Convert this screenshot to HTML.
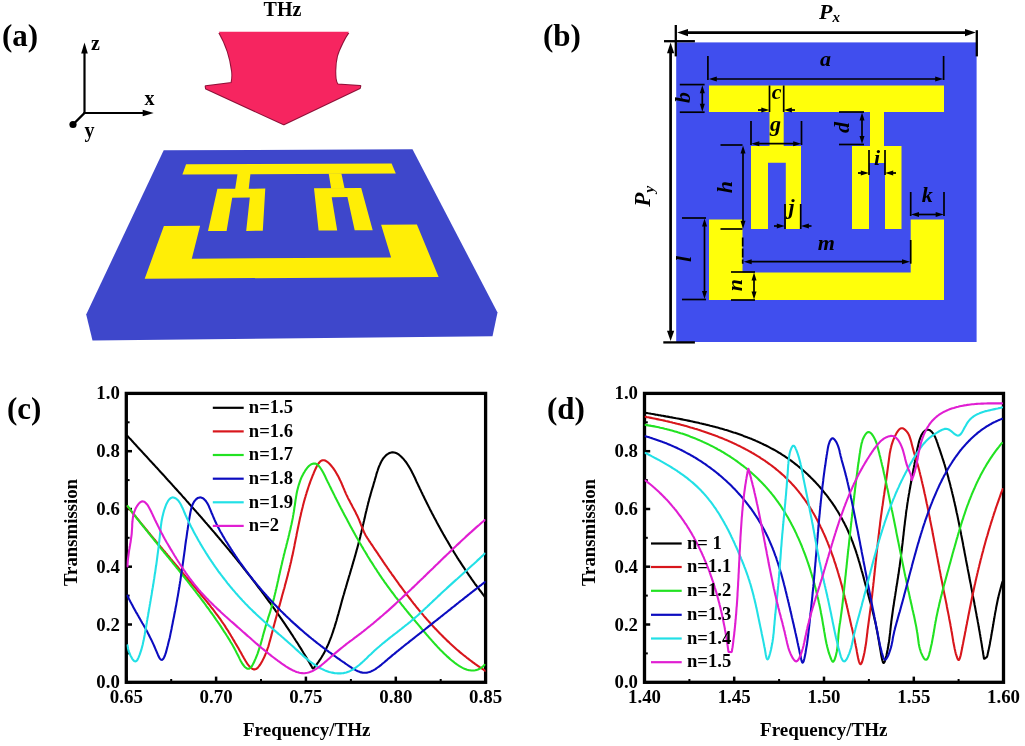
<!DOCTYPE html>
<html lang="en"><head><meta charset="utf-8"><title>Figure</title>
<style>
html,body{margin:0;padding:0;background:#fff;}
body{width:1025px;height:746px;overflow:hidden;}
svg{display:block;}
svg text{font-family:"Liberation Serif","Times New Roman",serif;fill:#000;}
</style></head><body>
<svg width="1025" height="746" viewBox="0 0 1025 746">
<rect width="1025" height="746" fill="#fff"/>
<text x="2" y="46" font-size="31" font-weight="bold" font-style="normal" text-anchor="start" >(a)</text>
<text x="543" y="46" font-size="31" font-weight="bold" font-style="normal" text-anchor="start" >(b)</text>
<text x="7" y="419" font-size="31" font-weight="bold" font-style="normal" text-anchor="start" >(c)</text>
<text x="547" y="419" font-size="31" font-weight="bold" font-style="normal" text-anchor="start" >(d)</text>
<g id="panel-a">
<line x1="84.5" y1="114" x2="84.5" y2="51" stroke="#000" stroke-width="2.2" />
<polygon points="84.5,42.5 87.8,53.5 81.2,53.5" fill="#000" />
<line x1="83.4" y1="113" x2="145" y2="113" stroke="#000" stroke-width="2.2" />
<polygon points="153.7,113 142.7,116.2 142.7,109.8" fill="#000" />
<line x1="84.5" y1="113" x2="73" y2="124.5" stroke="#000" stroke-width="2.4" />
<circle cx="73" cy="124.5" r="3.6" fill="#000"/>
<text x="91" y="49.5" font-size="20" font-weight="bold" font-style="normal" text-anchor="start" >z</text>
<text x="144.5" y="104.5" font-size="20" font-weight="bold" font-style="normal" text-anchor="start" >x</text>
<text x="84.5" y="136.5" font-size="20" font-weight="bold" font-style="normal" text-anchor="start" >y</text>
<text x="282.5" y="16.3" font-size="20" font-weight="bold" font-style="normal" text-anchor="middle" >THz</text>
<clipPath id="clip-arrow"><rect x="190" y="33" width="190" height="100"/></clipPath>
<path d="M218.8,31.8 L349,31.8 C345,37 339,49 337,56 C335.5,62 335,72 335.6,78.5 C335.9,81 336.7,83 337.7,84.6 L360.3,85.9 L359.8,88 L283.8,124.3 L206,88.6 L205.7,86.3 L231.5,83 C232.4,79 232.5,75 232.1,71.5 C230.5,58 226,44 218.8,31.8 Z" fill="#8e1038" stroke="#8e1038" stroke-width="2" stroke-linejoin="round" clip-path="url(#clip-arrow)"/>
<path d="M218.8,31.8 L349,31.8 C345,37 339,49 337,56 C335.5,62 335,72 335.6,78.5 C335.9,81 336.7,83 337.7,84.6 L360.3,85.9 L359.8,88 L283.8,124.3 L206,88.6 L205.7,86.3 L231.5,83 C232.4,79 232.5,75 232.1,71.5 C230.5,58 226,44 218.8,31.8 Z" fill="#f62560"/>
<polygon points="163.7,150.3 412.5,149.3 497.5,312.5 492.5,336.2 92.5,340.5 86.2,314.5" fill="#3e47cb" />
<polygon points="186.1,164.3 391.6,163.4 395.8,173.6 182.4,174.6" fill="#ffee06" />
<polygon points="237.5,174 250.4,173.9 248.7,189.1 235.1,189.2" fill="#ffee06" />
<polygon points="217.4,188.8 265.3,188.6 262.8,230.8 246.2,230.9 249.8,197.6 232.2,197.7 226.6,231 208,231.1" fill="#ffee06" />
<polygon points="328.7,173.5 341.4,173.5 344.6,188.6 331.2,188.7" fill="#ffee06" />
<polygon points="314,188.3 361.2,188.1 372.7,230.2 354.7,230.3 347.4,197.1 331.7,197.2 337.2,230.4 318.6,230.5" fill="#ffee06" />
<polygon points="163.9,225.9 200.1,225.7 191.8,258.7 391.1,257.5 381.1,224.7 416.9,224.5 438.6,277 144.7,278.8" fill="#ffee06" />
</g>
<g id="panel-b">
<rect x="676.2" y="42.4" width="300.4" height="299.6" fill="#404eee"/>
<polygon points="709,85.5 944,85.5 944,112 709,112" fill="#ffff0a" />
<polygon points="769.5,111 783.7,111 783.7,147 769.5,147" fill="#ffff0a" />
<polygon points="751,146 801,146 801,229 785.8,229 785.8,162.7 768,162.7 768,229 751,229" fill="#ffff0a" />
<polygon points="870,111 884,111 884,147 870,147" fill="#ffff0a" />
<polygon points="852,146 901.5,146 901.5,229 885,229 885,163 869,163 869,229 852,229" fill="#ffff0a" />
<polygon points="709,219.5 742.5,219.5 742.5,272.5 910.7,272.5 910.7,219.5 944,219.5 944,300 709,300" fill="#ffff0a" />
<line x1="684" y1="32.6" x2="970" y2="32.6" stroke="#000" stroke-width="2.7" />
<polygon points="677.2,32.6 688,29 688,36.2" fill="#000" />
<polygon points="975.8,32.6 965,36.2 965,29" fill="#000" />
<line x1="675.8" y1="25" x2="675.8" y2="56.4" stroke="#000" stroke-width="2.3" />
<line x1="976.8" y1="30.2" x2="976.8" y2="56.4" stroke="#000" stroke-width="2.3" />
<line x1="670.6" y1="50" x2="670.6" y2="334" stroke="#000" stroke-width="2.7" />
<polygon points="670.6,42.6 674.2,53.2 667,53.2" fill="#000" />
<polygon points="670.6,341 667,330.8 674.2,330.8" fill="#000" />
<line x1="664" y1="41.2" x2="694.9" y2="41.2" stroke="#000" stroke-width="2.3" />
<line x1="663.3" y1="342.4" x2="694.9" y2="342.4" stroke="#000" stroke-width="2.3" />
<text x="819" y="18.8" font-size="22" font-weight="bold" font-style="italic" text-anchor="start" >P</text>
<text x="832.6" y="22.4" font-size="15" font-weight="bold" font-style="italic" text-anchor="start" >x</text>
<g transform="translate(649.8,206.8) rotate(-90)">
<text x="0" y="0" font-size="23" font-weight="bold" font-style="italic" text-anchor="start" >P</text>
<text x="14" y="4.6" font-size="15.5" font-weight="bold" font-style="italic" text-anchor="start" >y</text>
</g>
<line x1="707.9" y1="56" x2="707.9" y2="80" stroke="#000" stroke-width="1.7" />
<line x1="943.6" y1="56" x2="943.6" y2="80" stroke="#000" stroke-width="1.7" />
<line x1="713.6" y1="79" x2="938.4" y2="79" stroke="#000" stroke-width="1.7" />
<polygon points="708.8,79 716.8,76.5 716.8,81.5" fill="#000" />
<polygon points="943.2,79 935.2,81.5 935.2,76.5" fill="#000" />
<text x="825.5" y="66" font-size="22" font-weight="bold" font-style="italic" text-anchor="middle" >a</text>
<line x1="679.8" y1="84.6" x2="704.6" y2="84.6" stroke="#000" stroke-width="1.7" />
<line x1="679.8" y1="112.2" x2="704.6" y2="112.2" stroke="#000" stroke-width="1.7" />
<line x1="702.3" y1="90" x2="702.3" y2="107" stroke="#000" stroke-width="1.7" />
<polygon points="702.3,85.2 704.8,93.2 699.8,93.2" fill="#000" />
<polygon points="702.3,111.8 699.8,103.8 704.8,103.8" fill="#000" />
<text x="690" y="97.5" font-size="22" font-weight="bold" font-style="italic" text-anchor="middle" transform="rotate(-90 690 97.5)" >b</text>
<line x1="769.5" y1="85.5" x2="769.5" y2="112" stroke="#000" stroke-width="1.7" />
<line x1="783.7" y1="85.5" x2="783.7" y2="112" stroke="#000" stroke-width="1.7" />
<line x1="758" y1="110" x2="764.5" y2="110" stroke="#000" stroke-width="1.7" />
<polygon points="769.3,110 761.3,112.5 761.3,107.5" fill="#000" />
<line x1="795" y1="110" x2="788.7" y2="110" stroke="#000" stroke-width="1.7" />
<polygon points="783.9,110 791.9,107.5 791.9,112.5" fill="#000" />
<text x="776.6" y="99" font-size="22" font-weight="bold" font-style="italic" text-anchor="middle" >c</text>
<line x1="751" y1="121" x2="751" y2="145" stroke="#000" stroke-width="1.7" />
<line x1="801.5" y1="121" x2="801.5" y2="145" stroke="#000" stroke-width="1.7" />
<line x1="756.1" y1="143.7" x2="796.4" y2="143.7" stroke="#000" stroke-width="1.7" />
<polygon points="751.3,143.7 759.3,141.2 759.3,146.2" fill="#000" />
<polygon points="801.2,143.7 793.2,146.2 793.2,141.2" fill="#000" />
<text x="775.5" y="131" font-size="22" font-weight="bold" font-style="italic" text-anchor="middle" >g</text>
<line x1="839" y1="112" x2="864" y2="112" stroke="#000" stroke-width="1.7" />
<line x1="839" y1="144.5" x2="864" y2="144.5" stroke="#000" stroke-width="1.7" />
<line x1="862" y1="117.3" x2="862" y2="139.2" stroke="#000" stroke-width="1.7" />
<polygon points="862,112.5 864.5,120.5 859.5,120.5" fill="#000" />
<polygon points="862,144 859.5,136 864.5,136" fill="#000" />
<text x="848.5" y="127.5" font-size="22" font-weight="bold" font-style="italic" text-anchor="middle" transform="rotate(-90 848.5 127.5)" >d</text>
<line x1="869" y1="150" x2="869" y2="175" stroke="#000" stroke-width="1.7" />
<line x1="885" y1="150" x2="885" y2="175" stroke="#000" stroke-width="1.7" />
<line x1="858" y1="173" x2="864" y2="173" stroke="#000" stroke-width="1.7" />
<polygon points="868.8,173 860.8,175.5 860.8,170.5" fill="#000" />
<line x1="896" y1="173" x2="890" y2="173" stroke="#000" stroke-width="1.7" />
<polygon points="885.2,173 893.2,170.5 893.2,175.5" fill="#000" />
<text x="877" y="164.5" font-size="22" font-weight="bold" font-style="italic" text-anchor="middle" >i</text>
<line x1="720.5" y1="145" x2="742.5" y2="145" stroke="#000" stroke-width="1.7" />
<line x1="720.5" y1="229" x2="742.5" y2="229" stroke="#000" stroke-width="1.7" />
<line x1="743" y1="150.3" x2="743" y2="223.9" stroke="#000" stroke-width="1.7" />
<polygon points="743,145.5 745.5,153.5 740.5,153.5" fill="#000" />
<polygon points="743,228.7 740.5,220.7 745.5,220.7" fill="#000" />
<text x="731.5" y="187" font-size="22" font-weight="bold" font-style="italic" text-anchor="middle" transform="rotate(-90 731.5 187)" >h</text>
<line x1="785" y1="204" x2="785" y2="229" stroke="#000" stroke-width="1.7" />
<line x1="800.7" y1="204" x2="800.7" y2="229" stroke="#000" stroke-width="1.7" />
<line x1="774" y1="226" x2="780" y2="226" stroke="#000" stroke-width="1.7" />
<polygon points="784.8,226 776.8,228.5 776.8,223.5" fill="#000" />
<line x1="811.5" y1="226" x2="805.7" y2="226" stroke="#000" stroke-width="1.7" />
<polygon points="800.9,226 808.9,223.5 808.9,228.5" fill="#000" />
<text x="791.5" y="214" font-size="22" font-weight="bold" font-style="italic" text-anchor="middle" >j</text>
<line x1="910.7" y1="192" x2="910.7" y2="216" stroke="#000" stroke-width="1.7" />
<line x1="944" y1="192" x2="944" y2="216" stroke="#000" stroke-width="1.7" />
<line x1="915.8" y1="214.5" x2="938.9" y2="214.5" stroke="#000" stroke-width="1.7" />
<polygon points="911,214.5 919,212 919,217" fill="#000" />
<polygon points="943.7,214.5 935.7,217 935.7,212" fill="#000" />
<text x="927.3" y="202" font-size="22" font-weight="bold" font-style="italic" text-anchor="middle" >k</text>
<line x1="682" y1="218" x2="706" y2="218" stroke="#000" stroke-width="1.7" />
<line x1="682" y1="299.5" x2="706" y2="299.5" stroke="#000" stroke-width="1.7" />
<line x1="704.5" y1="223.3" x2="704.5" y2="294.2" stroke="#000" stroke-width="1.7" />
<polygon points="704.5,218.5 707,226.5 702,226.5" fill="#000" />
<polygon points="704.5,299 702,291 707,291" fill="#000" />
<text x="691" y="259" font-size="22" font-weight="bold" font-style="italic" text-anchor="middle" transform="rotate(-90 691 259)" >l</text>
<line x1="742.7" y1="237.5" x2="742.7" y2="263.7" stroke="#000" stroke-width="1.7" stroke-dasharray="9 2"/>
<line x1="910.7" y1="240" x2="910.7" y2="263.7" stroke="#000" stroke-width="1.7" />
<line x1="748.5" y1="261.7" x2="905.2" y2="261.7" stroke="#000" stroke-width="1.7" />
<polygon points="743.7,261.7 751.7,259.2 751.7,264.2" fill="#000" />
<polygon points="910,261.7 902,264.2 902,259.2" fill="#000" />
<text x="826.3" y="250" font-size="22" font-weight="bold" font-style="italic" text-anchor="middle" >m</text>
<line x1="731" y1="272" x2="755" y2="272" stroke="#000" stroke-width="1.7" />
<line x1="731" y1="300" x2="755" y2="300" stroke="#000" stroke-width="1.7" />
<line x1="754" y1="277.3" x2="754" y2="294.7" stroke="#000" stroke-width="1.7" />
<polygon points="754,272.5 756.5,280.5 751.5,280.5" fill="#000" />
<polygon points="754,299.5 751.5,291.5 756.5,291.5" fill="#000" />
<text x="742" y="285" font-size="22" font-weight="bold" font-style="italic" text-anchor="middle" transform="rotate(-90 742 285)" >n</text>
</g>
<g id="plot-c">
<clipPath id="clip-plot-c"><rect x="126.3" y="393.4" width="359.3" height="288.9"/></clipPath>
<rect x="126.3" y="393.4" width="359.3" height="288.9" fill="none" stroke="#000" stroke-width="3.3"/>
<line x1="126.3" y1="682.3" x2="126.3" y2="676.6" stroke="#000" stroke-width="2.5" />
<line x1="171.2" y1="682.3" x2="171.2" y2="679" stroke="#000" stroke-width="2" />
<line x1="216.1" y1="682.3" x2="216.1" y2="676.6" stroke="#000" stroke-width="2.5" />
<line x1="261" y1="682.3" x2="261" y2="679" stroke="#000" stroke-width="2" />
<line x1="305.9" y1="682.3" x2="305.9" y2="676.6" stroke="#000" stroke-width="2.5" />
<line x1="350.9" y1="682.3" x2="350.9" y2="679" stroke="#000" stroke-width="2" />
<line x1="395.8" y1="682.3" x2="395.8" y2="676.6" stroke="#000" stroke-width="2.5" />
<line x1="440.7" y1="682.3" x2="440.7" y2="679" stroke="#000" stroke-width="2" />
<line x1="485.6" y1="682.3" x2="485.6" y2="676.6" stroke="#000" stroke-width="2.5" />
<line x1="126.3" y1="682.3" x2="132" y2="682.3" stroke="#000" stroke-width="2.5" />
<line x1="126.3" y1="653.4" x2="129.6" y2="653.4" stroke="#000" stroke-width="2" />
<line x1="126.3" y1="624.5" x2="132" y2="624.5" stroke="#000" stroke-width="2.5" />
<line x1="126.3" y1="595.6" x2="129.6" y2="595.6" stroke="#000" stroke-width="2" />
<line x1="126.3" y1="566.7" x2="132" y2="566.7" stroke="#000" stroke-width="2.5" />
<line x1="126.3" y1="537.8" x2="129.6" y2="537.8" stroke="#000" stroke-width="2" />
<line x1="126.3" y1="509" x2="132" y2="509" stroke="#000" stroke-width="2.5" />
<line x1="126.3" y1="480.1" x2="129.6" y2="480.1" stroke="#000" stroke-width="2" />
<line x1="126.3" y1="451.2" x2="132" y2="451.2" stroke="#000" stroke-width="2.5" />
<line x1="126.3" y1="422.3" x2="129.6" y2="422.3" stroke="#000" stroke-width="2" />
<line x1="126.3" y1="393.4" x2="132" y2="393.4" stroke="#000" stroke-width="2.5" />
<g clip-path="url(#clip-plot-c)" fill="none" stroke-width="2.1" stroke-linejoin="round" stroke-linecap="round">
<path d="M127.5,436 L128.5,437.1 L129.5,438.2 L130.6,439.3 L131.6,440.4 L132.6,441.5 L133.6,442.6 L134.6,443.7 L135.7,444.8 L136.7,446 L137.7,447.1 L138.7,448.2 L139.7,449.3 L140.8,450.4 L141.8,451.5 L142.8,452.6 L143.8,453.7 L144.8,454.8 L145.9,455.9 L146.9,457 L147.9,458.1 L148.9,459.3 L149.9,460.4 L151,461.5 L152,462.6 L153,463.7 L154,464.8 L155,465.9 L156,467 L157.1,468.1 L158.1,469.2 L159.1,470.4 L160.1,471.5 L161.1,472.6 L162.2,473.7 L163.2,474.8 L164.2,475.9 L165.2,477 L166.2,478.2 L167.2,479.3 L168.2,480.4 L169.3,481.5 L170.3,482.6 L171.3,483.7 L172.3,484.9 L173.3,486 L174.3,487.1 L175.3,488.2 L176.3,489.3 L177.4,490.5 L178.4,491.6 L179.4,492.7 L180.4,493.8 L181.4,494.9 L182.4,496.1 L183.4,497.2 L184.4,498.3 L185.4,499.4 L186.4,500.6 L187.4,501.7 L188.4,502.8 L189.4,504 L190.4,505.1 L191.4,506.2 L192.4,507.3 L193.4,508.5 L194.4,509.6 L195.4,510.7 L196.4,511.9 L197.4,513 L198.4,514.1 L199.4,515.3 L200.4,516.4 L201.4,517.5 L202.4,518.7 L203.4,519.8 L204.4,521 L205.3,522.1 L206.3,523.2 L207.3,524.4 L208.3,525.5 L209.3,526.7 L210.3,527.8 L211.3,529 L212.2,530.1 L213.2,531.2 L214.2,532.4 L215.2,533.5 L216.1,534.7 L217.1,535.8 L218.1,537 L219.1,538.1 L220,539.3 L221,540.4 L222,541.6 L222.9,542.8 L223.9,543.9 L224.9,545.1 L225.8,546.2 L226.8,547.4 L227.8,548.6 L228.7,549.7 L229.7,550.9 L230.6,552 L231.6,553.2 L232.6,554.4 L233.5,555.5 L234.5,556.7 L235.4,557.9 L236.4,559 L237.3,560.2 L238.2,561.4 L239.2,562.6 L240.1,563.7 L241.1,564.9 L242,566.1 L243,567.3 L243.9,568.5 L244.8,569.6 L245.8,570.8 L246.7,572 L247.6,573.2 L248.5,574.4 L249.5,575.6 L250.4,576.7 L251.3,577.9 L252.2,579.1 L253.2,580.3 L254.1,581.5 L255,582.7 L255.9,583.9 L256.8,585.1 L257.7,586.3 L258.6,587.5 L259.5,588.7 L260.4,589.9 L261.4,591.1 L262.3,592.3 L263.2,593.5 L264,594.7 L264.9,595.9 L265.8,597.1 L266.7,598.4 L267.6,599.6 L268.5,600.8 L269.4,602 L270.3,603.2 L271.2,604.4 L272,605.7 L272.9,606.9 L273.8,608.1 L274.7,609.3 L275.5,610.6 L276.4,611.8 L277.3,613 L278.1,614.2 L279,615.5 L279.8,616.7 L280.7,618 L281.6,619.2 L282.4,620.4 L283.3,621.7 L284.1,622.9 L285,624.2 L285.8,625.4 L286.6,626.6 L287.5,627.9 L288.3,629.1 L289.2,630.4 L290,631.7 L290.8,632.9 L291.6,634.2 L292.5,635.4 L293.3,636.7 L294.1,638 L294.9,639.2 L295.7,640.5 L296.6,641.8 L297.4,643 L298.2,644.3 L299,645.6 L299.8,646.8 L300.6,648.1 L301.4,649.4 L302.2,650.7 L303,652 L303.7,653.2 L304.5,654.5 L305.3,655.8 L306.1,657.1 L306.9,658.4 L307.6,659.7 L308.4,661 L309.2,662.3 L310,663.6 L310.7,664.9 L311.5,666.2 L311.7,666.6 L312.1,667.4 L312.4,667.9 L312.7,668.3 L313.1,668.4 L313.5,668.3 L313.8,668.1 L314.2,667.6 L314.6,666.9 L314.9,666.6 L315.8,665.5 L316.7,664.3 L317.6,663.1 L318.5,661.9 L319.3,660.7 L320.1,659.5 L320.9,658.3 L321.7,657 L322.4,655.8 L323.2,654.5 L323.9,653.2 L324.6,651.9 L325.2,650.6 L325.9,649.3 L326.5,647.9 L327.2,646.6 L327.8,645.2 L328.4,643.9 L329,642.5 L329.5,641.1 L330.1,639.7 L330.6,638.3 L331.2,636.9 L331.7,635.5 L332.2,634 L332.7,632.6 L333.2,631.2 L333.6,629.7 L334.1,628.3 L334.6,626.8 L335,625.4 L335.5,623.9 L335.9,622.4 L336.4,621 L336.8,619.5 L337.2,618 L337.6,616.5 L338,615.1 L338.5,613.6 L338.9,612.1 L339.3,610.6 L339.7,609.2 L340.1,607.7 L340.5,606.2 L340.9,604.7 L341.3,603.3 L341.7,601.8 L342.1,600.3 L342.5,598.9 L342.9,597.4 L343.3,596 L343.8,594.5 L344.2,593.1 L344.6,591.6 L345,590.2 L345.4,588.8 L345.9,587.3 L346.3,585.9 L346.7,584.5 L347.1,583 L347.5,581.6 L348,580.2 L348.4,578.7 L348.8,577.3 L349.2,575.9 L349.7,574.5 L350.1,573 L350.5,571.6 L350.9,570.2 L351.3,568.8 L351.8,567.3 L352.2,565.9 L352.6,564.5 L353,563.1 L353.4,561.6 L353.9,560.2 L354.3,558.8 L354.7,557.3 L355.1,555.9 L355.5,554.5 L355.9,553 L356.3,551.6 L356.7,550.1 L357.1,548.7 L357.5,547.2 L357.9,545.8 L358.3,544.3 L358.7,542.9 L359,541.4 L359.4,539.9 L359.8,538.5 L360.2,537 L360.5,535.5 L360.9,534 L361.3,532.5 L361.6,531 L362,529.6 L362.3,528 L362.7,526.5 L363,525 L363.4,523.5 L363.7,522 L364.1,520.5 L364.4,519 L364.8,517.6 L365.1,516.1 L365.4,514.6 L365.8,513.1 L366.1,511.6 L366.5,510.2 L366.8,508.7 L367.2,507.3 L367.5,505.9 L367.9,504.4 L368.2,503 L368.6,501.6 L369,500.3 L369.3,498.9 L369.7,497.5 L370.1,496.2 L370.5,494.9 L370.8,493.5 L371.2,492.2 L371.6,490.8 L372,489.5 L372.4,488.1 L372.9,486.7 L373.3,485.3 L373.7,483.8 L374.1,482.3 L374.6,480.8 L375,479.2 L375.5,477.6 L376,476 L376.4,474.3 L376.9,472.6 L377.5,471 L378,469.3 L378.6,467.7 L379.2,466.1 L379.9,464.6 L380.6,463 L381.3,461.6 L382.1,460.2 L382.9,458.9 L383.8,457.7 L384.8,456.6 L385.8,455.5 L386.8,454.6 L388,453.9 L389.1,453.2 L390.3,452.7 L391.6,452.4 L392.8,452.3 L394.1,452.5 L395.3,452.8 L396.6,453.3 L397.8,453.9 L399,454.7 L400.2,455.7 L401.3,456.7 L402.5,457.9 L403.6,459.1 L404.6,460.4 L405.7,461.7 L406.7,463.1 L407.6,464.5 L408.5,465.9 L409.3,467.2 L410.1,468.6 L410.9,470 L411.6,471.3 L412.3,472.7 L413,474.1 L413.7,475.4 L414.3,476.8 L415,478.1 L415.6,479.5 L416.2,480.9 L416.8,482.2 L417.5,483.6 L418.1,484.9 L418.7,486.3 L419.4,487.6 L420,489 L420.7,490.3 L421.3,491.7 L422,493 L422.6,494.4 L423.3,495.7 L423.9,497.1 L424.6,498.4 L425.2,499.8 L425.9,501.1 L426.6,502.5 L427.2,503.8 L427.9,505.1 L428.6,506.5 L429.3,507.8 L429.9,509.2 L430.6,510.5 L431.3,511.8 L432,513.2 L432.7,514.5 L433.4,515.8 L434.1,517.2 L434.8,518.5 L435.5,519.8 L436.2,521.1 L436.9,522.5 L437.6,523.8 L438.3,525.1 L439.1,526.4 L439.8,527.7 L440.5,529.1 L441.2,530.4 L442,531.7 L442.7,533 L443.4,534.3 L444.2,535.6 L444.9,536.9 L445.7,538.2 L446.4,539.5 L447.2,540.8 L448,542.1 L448.7,543.4 L449.5,544.7 L450.2,546 L451,547.3 L451.8,548.6 L452.6,549.9 L453.4,551.2 L454.1,552.5 L454.9,553.7 L455.7,555 L456.5,556.3 L457.3,557.6 L458.1,558.8 L458.9,560.1 L459.8,561.4 L460.6,562.6 L461.4,563.9 L462.2,565.2 L463,566.4 L463.9,567.7 L464.7,568.9 L465.5,570.2 L466.4,571.4 L467.2,572.7 L468.1,573.9 L468.9,575.2 L469.8,576.4 L470.7,577.6 L471.5,578.9 L472.4,580.1 L473.3,581.3 L474.1,582.5 L475,583.8 L475.9,585 L476.8,586.2 L477.7,587.4 L478.6,588.6 L479.5,589.8 L480.4,591 L481.3,592.2 L482.2,593.4 L483.1,594.6 L484.1,595.8 L485,597" stroke="#000000"/>
<path d="M127.5,506.5 L128.5,507.7 L129.4,508.9 L130.4,510.1 L131.3,511.3 L132.3,512.5 L133.2,513.7 L134.2,514.8 L135.2,516 L136.1,517.2 L137.1,518.4 L138,519.5 L139,520.7 L139.9,521.9 L140.9,523.1 L141.8,524.2 L142.8,525.4 L143.7,526.5 L144.7,527.7 L145.7,528.9 L146.6,530 L147.6,531.2 L148.5,532.3 L149.5,533.5 L150.4,534.6 L151.4,535.8 L152.3,536.9 L153.3,538.1 L154.2,539.2 L155.2,540.3 L156.1,541.5 L157.1,542.6 L158.1,543.8 L159,544.9 L160,546.1 L160.9,547.2 L161.9,548.3 L162.8,549.5 L163.8,550.6 L164.8,551.7 L165.7,552.9 L166.7,554 L167.6,555.2 L168.6,556.3 L169.6,557.4 L170.5,558.6 L171.5,559.7 L172.4,560.8 L173.4,562 L174.4,563.1 L175.3,564.3 L176.3,565.4 L177.3,566.5 L178.2,567.7 L179.2,568.8 L180.2,570 L181.1,571.1 L182.1,572.3 L183.1,573.4 L184.1,574.6 L185,575.7 L186,576.9 L187,578 L188,579.2 L188.9,580.3 L189.9,581.5 L190.9,582.6 L191.9,583.8 L192.9,585 L193.9,586.1 L194.9,587.3 L195.8,588.4 L196.8,589.6 L197.8,590.8 L198.8,592 L199.8,593.1 L200.8,594.3 L201.7,595.5 L202.7,596.7 L203.7,597.8 L204.7,599 L205.6,600.2 L206.6,601.4 L207.6,602.6 L208.5,603.8 L209.5,604.9 L210.4,606.1 L211.3,607.3 L212.3,608.5 L213.2,609.7 L214.1,610.9 L215,612.1 L215.9,613.3 L216.8,614.5 L217.7,615.6 L218.6,616.8 L219.4,618 L220.3,619.2 L221.1,620.4 L221.9,621.6 L222.8,622.8 L223.6,624 L224.4,625.2 L225.2,626.4 L225.9,627.6 L226.7,628.8 L227.5,630 L228.3,631.2 L229,632.5 L229.8,633.7 L230.6,635 L231.3,636.2 L232.1,637.5 L232.8,638.8 L233.6,640.1 L234.4,641.4 L235.1,642.7 L235.9,644 L236.7,645.4 L237.5,646.7 L238.3,648.1 L239.1,649.5 L239.9,650.9 L240.7,652.3 L241.5,653.8 L242.3,655.3 L243.2,656.8 L244,658.3 L244.9,659.8 L245.8,661.3 L246.7,662.7 L247.6,664.1 L248.6,665.4 L249.6,666.5 L250.6,667.6 L251.7,668.4 L252.8,669.1 L253.9,669.4 L255,669.4 L256,669 L257,668.4 L258,667.4 L259,666.2 L259.9,665 L260.8,663.6 L261.6,662.2 L262.4,660.8 L263.1,659.4 L263.8,658 L264.5,656.5 L265.1,655.1 L265.7,653.7 L266.3,652.3 L266.8,650.9 L267.3,649.4 L267.8,648 L268.3,646.6 L268.7,645.2 L269.1,643.7 L269.5,642.3 L269.9,640.9 L270.3,639.4 L270.7,638 L271.1,636.5 L271.5,635.1 L271.8,633.6 L272.2,632.2 L272.6,630.7 L273,629.3 L273.3,627.8 L273.7,626.4 L274.1,624.9 L274.5,623.5 L274.9,622 L275.3,620.6 L275.7,619.1 L276.1,617.6 L276.5,616.2 L276.9,614.7 L277.3,613.2 L277.7,611.8 L278.1,610.3 L278.5,608.8 L278.9,607.4 L279.4,605.9 L279.8,604.4 L280.2,603 L280.6,601.5 L281,600 L281.4,598.6 L281.8,597.1 L282.2,595.6 L282.6,594.1 L283,592.7 L283.4,591.2 L283.8,589.7 L284.3,588.3 L284.7,586.8 L285,585.3 L285.4,583.9 L285.8,582.4 L286.2,580.9 L286.6,579.4 L287,578 L287.4,576.5 L287.8,575.1 L288.1,573.6 L288.5,572.1 L288.9,570.7 L289.2,569.2 L289.6,567.7 L289.9,566.3 L290.3,564.8 L290.6,563.4 L291,561.9 L291.3,560.5 L291.6,559 L291.9,557.6 L292.3,556.1 L292.6,554.7 L292.9,553.2 L293.2,551.8 L293.5,550.4 L293.8,548.9 L294.1,547.5 L294.4,546 L294.6,544.6 L294.9,543.2 L295.2,541.7 L295.5,540.3 L295.8,538.8 L296.1,537.4 L296.4,536 L296.6,534.5 L296.9,533.1 L297.2,531.6 L297.5,530.2 L297.8,528.8 L298.1,527.3 L298.4,525.9 L298.7,524.4 L299,523 L299.3,521.5 L299.6,520.1 L299.9,518.6 L300.2,517.2 L300.6,515.7 L300.9,514.3 L301.2,512.8 L301.6,511.3 L301.9,509.9 L302.3,508.4 L302.7,506.9 L303,505.5 L303.4,504 L303.8,502.5 L304.2,501 L304.6,499.6 L305,498.1 L305.5,496.6 L305.9,495.1 L306.4,493.6 L306.8,492.1 L307.3,490.6 L307.8,489.1 L308.3,487.5 L308.8,486 L309.3,484.5 L309.9,483 L310.4,481.4 L311,479.9 L311.6,478.3 L312.2,476.8 L312.8,475.2 L313.5,473.7 L314.1,472.1 L314.8,470.5 L315.5,469 L316.2,467.5 L316.9,466.1 L317.7,464.7 L318.5,463.5 L319.3,462.5 L320.1,461.6 L321,460.9 L322,460.4 L323,460.2 L324,460.2 L325.1,460.5 L326.2,461.1 L327.3,461.8 L328.4,462.7 L329.5,463.8 L330.6,465 L331.7,466.3 L332.8,467.7 L333.8,469 L334.7,470.4 L335.6,471.8 L336.4,473.2 L337.2,474.6 L338,475.9 L338.7,477.3 L339.4,478.7 L340,480 L340.7,481.4 L341.3,482.8 L341.9,484.1 L342.4,485.5 L343,486.8 L343.6,488.2 L344.2,489.5 L344.7,490.9 L345.3,492.2 L345.9,493.6 L346.5,494.9 L347.2,496.3 L347.8,497.6 L348.5,499 L349.2,500.3 L349.9,501.6 L350.6,503 L351.3,504.3 L352,505.6 L352.7,507 L353.4,508.3 L354.2,509.7 L354.9,511 L355.6,512.4 L356.2,513.7 L356.9,515.1 L357.6,516.4 L358.2,517.8 L358.8,519.2 L359.4,520.6 L359.9,522 L360.5,523.4 L361,524.8 L361.6,526.2 L362.1,527.5 L362.7,528.9 L363.3,530.3 L363.9,531.7 L364.5,533 L365.2,534.4 L365.9,535.7 L366.2,536.2 L366.5,536.7 L366.8,537.2 L367.2,537.8 L367.5,538.3 L367.9,538.8 L368.2,539.3 L368.5,539.9 L368.9,540.4 L369.1,540.8 L370,542 L370.8,543.3 L371.6,544.5 L372.5,545.7 L373.3,547 L374.1,548.2 L374.9,549.5 L375.8,550.7 L376.6,551.9 L377.5,553.2 L378.3,554.4 L379.1,555.7 L380,556.9 L380.8,558.2 L381.7,559.4 L382.5,560.6 L383.3,561.9 L384.2,563.1 L385,564.4 L385.9,565.6 L386.8,566.8 L387.6,568.1 L388.5,569.3 L389.3,570.6 L390.2,571.8 L391.1,573 L391.9,574.3 L392.8,575.5 L393.7,576.7 L394.5,577.9 L395.4,579.2 L396.3,580.4 L397.2,581.6 L398.1,582.8 L398.9,584.1 L399.8,585.3 L400.7,586.5 L401.6,587.7 L402.5,588.9 L403.4,590.1 L404.3,591.3 L405.2,592.5 L406.1,593.8 L407,595 L408,596.2 L408.9,597.3 L409.8,598.5 L410.7,599.7 L411.6,600.9 L412.6,602.1 L413.5,603.3 L414.5,604.5 L415.4,605.6 L416.3,606.8 L417.3,608 L418.2,609.1 L419.2,610.3 L420.2,611.5 L421.1,612.6 L422.1,613.8 L423.1,614.9 L424,616.1 L425,617.2 L426,618.3 L427,619.5 L428,620.6 L429,621.7 L430,622.8 L431,623.9 L432,625 L433,626.2 L434,627.3 L435,628.4 L436.1,629.4 L437.1,630.5 L438.1,631.6 L439.2,632.7 L440.2,633.8 L441.3,634.8 L442.3,635.9 L443.4,636.9 L444.5,638 L445.5,639 L446.6,640.1 L447.7,641.1 L448.8,642.1 L449.9,643.2 L451,644.2 L452.1,645.2 L453.2,646.2 L454.3,647.2 L455.4,648.2 L456.5,649.2 L457.7,650.2 L458.8,651.1 L459.9,652.1 L461.1,653.1 L462.2,654 L463.4,655 L464.6,655.9 L465.7,656.8 L466.9,657.8 L468.1,658.7 L469.3,659.6 L470.5,660.5 L471.7,661.4 L472.9,662.3 L474.1,663.2 L475.3,664.1 L476.5,664.9 L477.8,665.8 L479,666.6 L480.3,667.5 L481.5,668.3 L482.8,669.2 L484,670 L485.3,670.8" stroke="#d8161c"/>
<path d="M127.5,506 L128.4,507.2 L129.3,508.4 L130.2,509.5 L131.1,510.7 L132,511.9 L132.9,513.1 L133.8,514.3 L134.7,515.4 L135.6,516.6 L136.5,517.8 L137.4,519 L138.4,520.1 L139.3,521.3 L140.2,522.5 L141.1,523.7 L142.1,524.8 L143,526 L143.9,527.2 L144.9,528.4 L145.8,529.5 L146.7,530.7 L147.7,531.9 L148.6,533.1 L149.5,534.2 L150.5,535.4 L151.4,536.6 L152.4,537.7 L153.3,538.9 L154.3,540.1 L155.2,541.3 L156.2,542.4 L157.1,543.6 L158.1,544.8 L159,545.9 L160,547.1 L160.9,548.3 L161.9,549.5 L162.8,550.6 L163.8,551.8 L164.7,553 L165.7,554.2 L166.7,555.3 L167.6,556.5 L168.6,557.7 L169.5,558.9 L170.5,560 L171.4,561.2 L172.4,562.4 L173.3,563.6 L174.3,564.7 L175.2,565.9 L176.2,567.1 L177.1,568.3 L178.1,569.4 L179,570.6 L180,571.8 L180.9,573 L181.9,574.2 L182.8,575.3 L183.7,576.5 L184.7,577.7 L185.6,578.9 L186.6,580.1 L187.5,581.2 L188.4,582.4 L189.4,583.6 L190.3,584.8 L191.2,586 L192.1,587.2 L193.1,588.4 L194,589.6 L194.9,590.7 L195.8,591.9 L196.7,593.1 L197.7,594.3 L198.6,595.5 L199.5,596.7 L200.4,597.9 L201.3,599.1 L202.2,600.3 L203.1,601.5 L204,602.7 L204.9,603.9 L205.8,605.1 L206.6,606.3 L207.5,607.5 L208.4,608.7 L209.3,609.9 L210.1,611.1 L211,612.3 L211.9,613.5 L212.7,614.7 L213.6,615.9 L214.4,617.1 L215.3,618.4 L216.1,619.6 L217,620.8 L217.8,622 L218.6,623.2 L219.5,624.4 L220.3,625.7 L221.1,626.9 L221.9,628.1 L222.7,629.3 L223.5,630.6 L224.3,631.8 L225.1,633 L225.9,634.2 L226.7,635.5 L227.5,636.7 L228.2,637.9 L229,639.2 L229.8,640.4 L230.5,641.7 L231.3,643 L232.1,644.3 L232.8,645.6 L233.6,647 L234.3,648.3 L235.1,649.8 L235.9,651.2 L236.6,652.7 L237.4,654.2 L238.2,655.8 L239,657.4 L239.8,659.1 L240.6,660.7 L241.5,662.2 L242.3,663.7 L243.3,665 L244.2,666.2 L245.2,667.2 L246.2,668 L247.2,668.6 L248.3,668.8 L249.3,668.6 L250.2,668 L251.1,667.1 L252,666 L252.8,664.6 L253.6,663.1 L254.3,661.5 L255,659.9 L255.7,658.4 L256.3,656.8 L256.9,655.3 L257.5,653.8 L258,652.3 L258.5,650.8 L259,649.3 L259.5,647.9 L259.9,646.4 L260.4,645 L260.8,643.6 L261.2,642.2 L261.6,640.8 L262,639.4 L262.4,638 L262.7,636.6 L263.1,635.2 L263.5,633.8 L263.9,632.4 L264.3,631 L264.7,629.6 L265.1,628.2 L265.5,626.8 L265.9,625.4 L266.3,624 L266.8,622.5 L267.2,621.1 L267.7,619.6 L268.1,618.2 L268.6,616.7 L269,615.3 L269.5,613.8 L270,612.4 L270.4,610.9 L270.8,609.4 L271.3,608 L271.7,606.5 L272.1,605.1 L272.5,603.6 L272.9,602.1 L273.3,600.7 L273.7,599.2 L274.1,597.7 L274.4,596.3 L274.8,594.8 L275.1,593.4 L275.5,591.9 L275.8,590.4 L276.2,589 L276.5,587.5 L276.9,586.1 L277.2,584.6 L277.5,583.1 L277.8,581.7 L278.2,580.2 L278.5,578.8 L278.8,577.3 L279.1,575.8 L279.5,574.4 L279.8,572.9 L280.1,571.5 L280.4,570 L280.8,568.6 L281.1,567.1 L281.4,565.6 L281.8,564.2 L282.1,562.7 L282.4,561.3 L282.8,559.8 L283.1,558.4 L283.5,556.9 L283.8,555.4 L284.2,554 L284.6,552.5 L284.9,551.1 L285.3,549.6 L285.7,548.2 L286.1,546.7 L286.4,545.2 L286.8,543.8 L287.2,542.3 L287.5,540.9 L287.9,539.4 L288.3,537.9 L288.6,536.5 L289,535 L289.3,533.6 L289.7,532.1 L290,530.6 L290.4,529.2 L290.7,527.7 L291,526.2 L291.4,524.8 L291.7,523.3 L292,521.8 L292.3,520.4 L292.6,518.9 L292.9,517.4 L293.1,515.9 L293.4,514.4 L293.6,513 L293.9,511.5 L294.1,510 L294.3,508.5 L294.5,507 L294.8,505.6 L295,504.1 L295.2,502.6 L295.4,501.1 L295.6,499.6 L295.9,498.1 L296.1,496.6 L296.4,495.1 L296.6,493.7 L296.9,492.2 L297.2,490.7 L297.6,489.2 L298,487.7 L298.4,486.2 L298.8,484.8 L299.3,483.3 L299.8,481.8 L300.3,480.4 L300.9,478.9 L301.5,477.4 L302.2,476 L303,474.5 L303.7,473.1 L304.6,471.7 L305.4,470.3 L306.3,469.1 L307.2,467.9 L308.2,466.8 L309.2,465.8 L310.2,465 L311.2,464.3 L312.2,463.9 L313.3,463.6 L314.3,463.5 L315.3,463.6 L316.4,464 L317.4,464.6 L318.4,465.5 L319.4,466.6 L320.4,468 L321.4,469.5 L322.3,471.1 L323.3,472.8 L324.2,474.5 L325.1,476.3 L325.9,478.1 L326.7,479.8 L327.5,481.4 L328.3,482.9 L329,484.4 L329.7,485.9 L330.4,487.3 L331.1,488.7 L331.7,490 L332.4,491.3 L333,492.6 L333.7,493.9 L334.3,495.1 L334.9,496.4 L335.6,497.7 L336.2,499 L336.9,500.2 L337.5,501.5 L338.2,502.8 L338.8,504.1 L339.5,505.4 L340.2,506.7 L340.8,507.9 L341.5,509.2 L342.2,510.5 L342.8,511.8 L343.5,513.1 L344.2,514.4 L344.9,515.7 L345.6,517 L346.3,518.3 L347,519.6 L347.7,520.9 L348.4,522.2 L349.1,523.6 L349.8,524.9 L350.5,526.2 L351.2,527.5 L351.9,528.8 L352.6,530.1 L353.4,531.4 L354.1,532.7 L354.8,534 L355.5,535.3 L356.3,536.7 L357,538 L357.8,539.3 L358.5,540.6 L359.3,541.9 L360,543.2 L360.8,544.5 L361.5,545.8 L362.3,547.1 L363.1,548.4 L363.8,549.7 L364.6,551 L365.4,552.3 L366.2,553.6 L367,554.9 L367.7,556.2 L368.5,557.5 L369.3,558.8 L370.1,560.1 L370.9,561.4 L371.8,562.7 L372.6,563.9 L373.4,565.2 L374.2,566.5 L375,567.8 L375.9,569 L376.7,570.3 L377.5,571.6 L378.4,572.8 L379.2,574.1 L380,575.3 L380.9,576.6 L381.7,577.8 L382.6,579.1 L383.5,580.3 L384.3,581.6 L385.2,582.8 L386.1,584 L387,585.3 L387.8,586.5 L388.7,587.7 L389.6,588.9 L390.5,590.1 L391.4,591.3 L392.3,592.5 L393.2,593.7 L394.1,594.9 L395,596.1 L395.9,597.3 L396.9,598.5 L397.8,599.7 L398.7,600.9 L399.6,602 L400.6,603.2 L401.5,604.4 L402.4,605.5 L403.4,606.7 L404.3,607.9 L405.2,609 L406.2,610.2 L407.1,611.3 L408.1,612.5 L409,613.7 L410,614.8 L410.9,615.9 L411.9,617.1 L412.8,618.2 L413.8,619.4 L414.7,620.5 L415.7,621.7 L416.6,622.8 L417.6,623.9 L418.6,625.1 L419.5,626.2 L420.5,627.3 L421.4,628.5 L422.4,629.6 L423.4,630.7 L424.3,631.9 L425.3,633 L426.2,634.1 L427.2,635.3 L428.2,636.4 L429.1,637.5 L430.1,638.6 L431.1,639.7 L432.1,640.9 L433.1,642 L434.1,643.1 L435.1,644.2 L436.1,645.3 L437.1,646.4 L438.1,647.5 L439.2,648.6 L440.2,649.7 L441.3,650.8 L442.4,651.8 L443.5,652.9 L444.6,654 L445.7,655 L446.8,656.1 L448,657.1 L449.1,658.1 L450.3,659.2 L451.5,660.2 L452.7,661.2 L454,662.2 L455.2,663.2 L456.5,664.1 L457.8,665 L459.1,665.9 L460.4,666.7 L461.7,667.4 L463.1,668.1 L464.4,668.7 L465.8,669.2 L467.1,669.7 L468.5,670.1 L469.8,670.3 L471.2,670.5 L472.6,670.5 L473.9,670.5 L475.3,670.3 L476.6,669.9 L478,669.5 L479.4,668.8 L480.7,668.1 L482,667.2 L483.4,666.1 L484.7,664.8" stroke="#22e222"/>
<path d="M127.5,595.7 L128.2,597.2 L128.9,598.7 L129.6,600.1 L130.3,601.5 L131.1,602.9 L131.8,604.3 L132.5,605.6 L133.2,606.9 L133.9,608.2 L134.6,609.5 L135.3,610.8 L136,612.1 L136.8,613.3 L137.5,614.6 L138.2,615.8 L138.9,617.1 L139.6,618.3 L140.3,619.5 L141,620.8 L141.7,622 L142.4,623.2 L143.2,624.5 L143.9,625.7 L144.6,627 L145.3,628.2 L146,629.5 L146.7,630.8 L147.4,632.1 L148.1,633.5 L148.8,634.8 L149.5,636.2 L150.2,637.6 L150.9,639 L151.6,640.4 L152.3,641.9 L153,643.4 L153.7,644.9 L154.4,646.5 L155.1,648.1 L155.8,649.8 L156.5,651.4 L157.2,653.1 L157.9,654.7 L158.6,656.2 L159.2,657.5 L159.9,658.6 L160.6,659.4 L161.3,659.8 L162,659.9 L162.6,659.5 L163.3,658.8 L163.9,657.7 L164.6,656.3 L165.2,654.7 L165.8,652.9 L166.3,651.1 L166.8,649.2 L167.3,647.3 L167.8,645.5 L168.2,643.8 L168.6,642.1 L169,640.5 L169.4,638.9 L169.8,637.4 L170.1,635.9 L170.4,634.4 L170.7,632.9 L171,631.5 L171.3,630.1 L171.6,628.7 L171.8,627.3 L172.1,625.9 L172.4,624.5 L172.7,623.1 L172.9,621.7 L173.2,620.3 L173.5,618.9 L173.8,617.5 L174.1,616.1 L174.3,614.7 L174.6,613.3 L174.9,611.8 L175.2,610.4 L175.4,609 L175.7,607.5 L176,606 L176.3,604.6 L176.5,603.1 L176.8,601.6 L177.1,600.1 L177.3,598.6 L177.6,597.1 L177.9,595.6 L178.1,594.1 L178.4,592.6 L178.6,591.1 L178.9,589.5 L179.1,588 L179.4,586.5 L179.6,585 L179.9,583.4 L180.1,581.9 L180.4,580.4 L180.6,578.9 L180.8,577.3 L181,575.8 L181.3,574.3 L181.5,572.8 L181.7,571.3 L181.9,569.8 L182.2,568.3 L182.4,566.8 L182.6,565.4 L182.8,563.9 L183,562.5 L183.2,561 L183.4,559.6 L183.6,558.1 L183.8,556.7 L184,555.3 L184.2,553.9 L184.4,552.4 L184.6,551 L184.8,549.6 L185,548.2 L185.1,546.8 L185.3,545.3 L185.5,543.9 L185.7,542.5 L185.9,541 L186.1,539.6 L186.4,538.1 L186.6,536.7 L186.8,535.2 L187,533.7 L187.2,532.2 L187.4,530.7 L187.7,529.2 L187.9,527.7 L188.1,526.1 L188.4,524.5 L188.6,523 L188.9,521.4 L189.1,519.7 L189.4,518.1 L189.7,516.4 L190,514.7 L190.3,513 L190.6,511.4 L191,509.7 L191.4,508.1 L191.9,506.5 L192.4,505 L193.1,503.5 L193.8,502.2 L194.7,500.9 L195.6,499.8 L196.6,498.9 L197.6,498.1 L198.8,497.7 L199.9,497.4 L201,497.5 L202.2,497.9 L203.3,498.5 L204.3,499.4 L205.4,500.5 L206.3,501.7 L207.2,503.1 L208,504.6 L208.8,506.1 L209.5,507.8 L210.2,509.4 L210.9,511.1 L211.5,512.7 L212.2,514.2 L212.8,515.7 L213.4,517.1 L214,518.5 L214.6,519.9 L215.2,521.2 L215.8,522.5 L216.4,523.8 L217.1,525.2 L217.7,526.5 L218.4,527.8 L219.1,529.1 L219.8,530.4 L220.5,531.7 L221.3,533 L222,534.3 L222.7,535.6 L223.5,536.9 L224.3,538.2 L225,539.5 L225.8,540.8 L226.6,542 L227.4,543.3 L228.2,544.6 L229,545.9 L229.8,547.1 L230.6,548.4 L231.4,549.7 L232.2,550.9 L233,552.2 L233.9,553.4 L234.7,554.7 L235.5,555.9 L236.4,557.1 L237.2,558.4 L238.1,559.6 L238.9,560.8 L239.8,562.1 L240.7,563.3 L241.5,564.5 L242.4,565.7 L243.3,566.9 L244.2,568.2 L245.1,569.4 L246,570.6 L246.9,571.8 L247.8,573 L248.7,574.1 L249.6,575.3 L250.5,576.5 L251.5,577.7 L252.4,578.9 L253.3,580.1 L254.3,581.2 L255.2,582.4 L256.2,583.6 L257.1,584.7 L258.1,585.9 L259.1,587 L260,588.2 L261,589.3 L262,590.5 L263,591.6 L264,592.8 L265,593.9 L266,595 L267,596.2 L268,597.3 L269,598.4 L270,599.5 L271,600.6 L272.1,601.7 L273.1,602.8 L274.1,603.9 L275.2,605 L276.2,606.1 L277.3,607.2 L278.3,608.3 L279.4,609.3 L280.4,610.4 L281.5,611.5 L282.6,612.5 L283.6,613.6 L284.7,614.6 L285.8,615.7 L286.9,616.7 L288,617.8 L289.1,618.8 L290.1,619.8 L291.2,620.9 L292.3,621.9 L293.4,622.9 L294.6,623.9 L295.7,624.9 L296.8,625.9 L297.9,626.9 L299,627.9 L300.1,628.9 L301.3,629.9 L302.4,630.8 L303.5,631.8 L304.6,632.8 L305.8,633.7 L306.9,634.7 L308.1,635.6 L309.2,636.6 L310.4,637.5 L311.5,638.5 L312.7,639.4 L313.8,640.3 L315,641.2 L316.1,642.1 L317.3,643.1 L318.5,644 L319.7,644.9 L320.8,645.8 L322,646.7 L323.2,647.6 L324.4,648.5 L325.6,649.4 L326.8,650.3 L328,651.2 L329.2,652.1 L330.5,652.9 L331.7,653.8 L332.9,654.7 L334.2,655.6 L335.4,656.5 L336.6,657.4 L337.9,658.3 L339.2,659.2 L340.4,660.1 L341.7,661 L343,661.9 L344.3,662.7 L345.5,663.6 L346.8,664.5 L348.1,665.4 L349.5,666.3 L350.8,667.2 L352.1,668.1 L353.4,668.9 L354.8,669.7 L356.1,670.4 L357.4,671 L358.8,671.6 L360.1,672.1 L361.5,672.4 L362.8,672.7 L364.2,672.8 L365.6,672.7 L366.9,672.6 L368.3,672.3 L369.6,671.9 L371,671.4 L372.3,670.8 L373.6,670.1 L375,669.3 L376.3,668.5 L377.6,667.5 L378.9,666.6 L380.2,665.6 L381.5,664.6 L382.7,663.5 L384,662.5 L385.2,661.4 L386.5,660.4 L387.7,659.3 L388.8,658.3 L390,657.4 L391.2,656.4 L392.3,655.4 L393.4,654.5 L394.6,653.6 L395.7,652.6 L396.8,651.7 L398,650.8 L399.1,649.9 L400.2,649 L401.3,648.1 L402.5,647.2 L403.6,646.3 L404.8,645.3 L405.9,644.4 L407.1,643.5 L408.3,642.6 L409.4,641.6 L410.6,640.7 L411.8,639.8 L413,638.8 L414.2,637.9 L415.3,637 L416.5,636 L417.7,635.1 L418.9,634.2 L420.1,633.2 L421.3,632.3 L422.5,631.3 L423.7,630.4 L424.9,629.5 L426,628.5 L427.2,627.6 L428.4,626.6 L429.6,625.7 L430.8,624.8 L432,623.8 L433.1,622.9 L434.3,621.9 L435.5,621 L436.7,620.1 L437.9,619.1 L439,618.2 L440.2,617.3 L441.4,616.3 L442.6,615.4 L443.7,614.5 L444.9,613.5 L446.1,612.6 L447.2,611.7 L448.4,610.7 L449.6,609.8 L450.8,608.9 L451.9,607.9 L453.1,607 L454.3,606.1 L455.5,605.1 L456.6,604.2 L457.8,603.3 L459,602.3 L460.1,601.4 L461.3,600.5 L462.5,599.6 L463.7,598.6 L464.8,597.7 L466,596.8 L467.2,595.9 L468.4,594.9 L469.6,594 L470.7,593.1 L471.9,592.2 L473.1,591.2 L474.3,590.3 L475.5,589.4 L476.7,588.5 L477.8,587.5 L479,586.6 L480.2,585.7 L481.4,584.8 L482.6,583.8 L483.8,582.9 L485,582" stroke="#0c0cc0"/>
<path d="M127.5,645.3 L127.7,646.6 L128,648.2 L128.4,650 L129,651.8 L129.7,653.6 L130.4,655.4 L131.3,657.1 L132.1,658.6 L133,659.8 L133.9,660.8 L134.8,661.3 L135.6,661.4 L136.4,661 L137.2,660.1 L137.9,658.9 L138.5,657.6 L139.1,656.1 L139.7,654.7 L140.2,653.2 L140.7,651.7 L141.2,650.2 L141.6,648.7 L142,647.2 L142.4,645.7 L142.8,644.2 L143.1,642.6 L143.5,641.1 L143.8,639.6 L144.1,638 L144.4,636.5 L144.7,634.9 L144.9,633.4 L145.2,631.8 L145.5,630.3 L145.7,628.8 L146,627.3 L146.3,625.7 L146.5,624.2 L146.8,622.7 L147,621.2 L147.3,619.7 L147.5,618.2 L147.8,616.7 L148.1,615.2 L148.3,613.7 L148.6,612.3 L148.8,610.8 L149.1,609.3 L149.3,607.9 L149.6,606.4 L149.8,604.9 L150.1,603.5 L150.3,602 L150.6,600.5 L150.8,599.1 L151.1,597.6 L151.3,596.2 L151.6,594.7 L151.8,593.3 L152,591.8 L152.3,590.3 L152.5,588.9 L152.8,587.4 L153,586 L153.2,584.5 L153.5,583.1 L153.7,581.6 L153.9,580.1 L154.2,578.7 L154.4,577.2 L154.6,575.7 L154.8,574.2 L155.1,572.8 L155.3,571.3 L155.5,569.8 L155.7,568.3 L155.9,566.8 L156.2,565.3 L156.4,563.8 L156.6,562.3 L156.8,560.8 L157,559.3 L157.2,557.8 L157.4,556.2 L157.6,554.7 L157.8,553.2 L158,551.7 L158.2,550.1 L158.4,548.6 L158.6,547.1 L158.7,545.6 L158.9,544.1 L159.1,542.6 L159.3,541.1 L159.4,539.6 L159.6,538.1 L159.8,536.6 L159.9,535.2 L160.1,533.7 L160.2,532.3 L160.4,530.9 L160.5,529.5 L160.7,528.1 L160.8,526.7 L161,525.3 L161.2,523.8 L161.4,522.4 L161.6,521 L161.9,519.5 L162.2,518 L162.5,516.5 L162.9,514.9 L163.3,513.3 L163.7,511.7 L164.2,510 L164.8,508.3 L165.4,506.6 L166,505 L166.7,503.4 L167.5,502 L168.3,500.6 L169.1,499.5 L170.1,498.6 L171,497.9 L172.1,497.5 L173.1,497.4 L174.3,497.7 L175.4,498.2 L176.5,499 L177.6,499.9 L178.6,501 L179.5,502.3 L180.4,503.7 L181.2,505.2 L181.9,506.7 L182.7,508.3 L183.4,509.9 L184,511.5 L184.7,513 L185.3,514.5 L186,516 L186.6,517.4 L187.2,518.8 L187.9,520.1 L188.5,521.4 L189.2,522.8 L189.8,524.1 L190.5,525.4 L191.1,526.7 L191.8,528 L192.5,529.3 L193.1,530.6 L193.8,531.9 L194.5,533.2 L195.2,534.5 L195.9,535.8 L196.7,537.1 L197.4,538.4 L198.1,539.7 L198.8,541 L199.6,542.3 L200.3,543.6 L201.1,544.9 L201.9,546.2 L202.6,547.4 L203.4,548.7 L204.2,550 L205,551.3 L205.8,552.6 L206.6,553.8 L207.4,555.1 L208.2,556.4 L209,557.6 L209.8,558.9 L210.7,560.1 L211.5,561.4 L212.4,562.6 L213.2,563.9 L214.1,565.1 L214.9,566.4 L215.8,567.6 L216.7,568.8 L217.6,570.1 L218.4,571.3 L219.3,572.5 L220.2,573.7 L221.1,574.9 L222.1,576.1 L223,577.3 L223.9,578.5 L224.8,579.7 L225.8,580.9 L226.7,582.1 L227.6,583.3 L228.6,584.5 L229.5,585.6 L230.5,586.8 L231.5,588 L232.4,589.1 L233.4,590.3 L234.4,591.4 L235.4,592.6 L236.4,593.7 L237.4,594.8 L238.4,596 L239.4,597.1 L240.4,598.2 L241.4,599.3 L242.4,600.4 L243.5,601.5 L244.5,602.6 L245.5,603.7 L246.6,604.7 L247.6,605.8 L248.7,606.9 L249.7,607.9 L250.8,609 L251.9,610 L252.9,611.1 L254,612.1 L255.1,613.1 L256.2,614.2 L257.3,615.2 L258.4,616.2 L259.5,617.2 L260.6,618.2 L261.7,619.2 L262.8,620.2 L263.9,621.2 L265,622.2 L266.1,623.1 L267.2,624.1 L268.3,625.1 L269.5,626.1 L270.6,627 L271.7,628 L272.8,629 L274,630 L275.1,630.9 L276.2,631.9 L277.4,632.9 L278.5,633.9 L279.6,634.8 L280.8,635.8 L281.9,636.8 L283.1,637.8 L284.2,638.8 L285.3,639.8 L286.5,640.7 L287.6,641.7 L288.7,642.7 L289.9,643.8 L291,644.8 L292.2,645.8 L293.3,646.8 L294.4,647.8 L295.6,648.9 L296.7,649.9 L297.8,650.9 L299,652 L300.1,653 L301.2,654 L302.4,655.1 L303.5,656.1 L304.7,657.1 L305.9,658.1 L307.1,659.1 L308.2,660 L309.4,661 L310.6,661.9 L311.9,662.8 L313.1,663.7 L314.4,664.6 L315.6,665.4 L316.9,666.2 L318.2,667 L319.5,667.8 L320.9,668.5 L322.2,669.1 L323.6,669.8 L325,670.4 L326.4,670.9 L327.8,671.4 L329.2,671.9 L330.6,672.3 L332.1,672.6 L333.5,672.9 L334.9,673.2 L336.4,673.3 L337.8,673.4 L339.2,673.4 L340.7,673.4 L342.1,673.3 L343.5,673.1 L344.9,672.8 L346.3,672.5 L347.6,672 L349,671.5 L350.3,670.9 L351.6,670.2 L352.9,669.5 L354.2,668.7 L355.4,667.8 L356.7,666.9 L357.9,666 L359.2,665 L360.4,663.9 L361.6,662.9 L362.8,661.8 L364,660.7 L365.2,659.5 L366.4,658.4 L367.6,657.2 L368.7,656.1 L369.9,655 L371.1,653.9 L372.3,652.7 L373.4,651.7 L374.6,650.6 L375.8,649.5 L376.9,648.5 L378.1,647.5 L379.3,646.5 L380.4,645.5 L381.6,644.5 L382.7,643.5 L383.9,642.6 L385.1,641.6 L386.2,640.7 L387.4,639.8 L388.5,638.9 L389.7,637.9 L390.8,637 L392,636.1 L393.1,635.2 L394.3,634.3 L395.4,633.5 L396.6,632.6 L397.7,631.7 L398.9,630.8 L400,629.9 L401.2,629 L402.3,628.1 L403.5,627.2 L404.6,626.3 L405.7,625.4 L406.9,624.5 L408,623.6 L409.1,622.7 L410.3,621.8 L411.4,620.8 L412.5,619.9 L413.7,618.9 L414.8,617.9 L415.9,617 L417.1,616 L418.2,615 L419.3,613.9 L420.4,612.9 L421.6,611.9 L422.7,610.9 L423.8,609.8 L424.9,608.8 L426,607.7 L427.2,606.7 L428.3,605.6 L429.4,604.6 L430.5,603.5 L431.6,602.5 L432.7,601.4 L433.8,600.4 L435,599.3 L436.1,598.2 L437.2,597.2 L438.3,596.1 L439.4,595.1 L440.5,594.1 L441.6,593 L442.7,592 L443.8,591 L444.9,590 L446.1,588.9 L447.2,587.9 L448.3,586.9 L449.4,585.9 L450.5,584.9 L451.6,583.9 L452.7,582.9 L453.8,581.9 L454.9,580.9 L456,579.9 L457.1,579 L458.2,578 L459.3,577 L460.4,576 L461.5,575 L462.6,574 L463.7,573 L464.8,572 L465.9,571 L467,570 L468.1,569 L469.2,568 L470.3,567 L471.4,566 L472.5,565 L473.7,564 L474.8,563 L475.9,562 L477,560.9 L478.1,559.9 L479.2,558.9 L480.3,557.8 L481.4,556.8 L482.5,555.7 L483.6,554.7 L484.7,553.6" stroke="#22e0e6"/>
<path d="M127.5,566.4 L127.5,564.8 L127.6,563.3 L127.7,561.8 L127.8,560.3 L128,558.8 L128.2,557.3 L128.4,555.8 L128.6,554.3 L128.8,552.8 L129,551.4 L129.2,549.9 L129.5,548.5 L129.7,547 L130,545.5 L130.2,544.1 L130.5,542.6 L130.7,541.2 L130.9,539.7 L131.1,538.2 L131.3,536.8 L131.5,535.3 L131.7,533.8 L131.8,532.3 L131.9,530.8 L132,529.3 L132.1,527.7 L132.2,526.2 L132.2,524.6 L132.3,523.1 L132.5,521.5 L132.6,520 L132.8,518.4 L133,516.9 L133.3,515.3 L133.7,513.8 L134.1,512.3 L134.7,510.8 L135.3,509.3 L136,507.8 L136.8,506.4 L137.7,505.1 L138.6,503.9 L139.5,502.9 L140.5,502.2 L141.4,501.6 L142.4,501.4 L143.3,501.5 L144.3,501.8 L145.2,502.4 L146,503.2 L146.9,504.2 L147.8,505.4 L148.6,506.7 L149.4,508.2 L150.2,509.7 L151,511.3 L151.8,513 L152.6,514.6 L153.3,516.3 L154.1,517.9 L154.8,519.5 L155.6,521 L156.3,522.5 L157.1,524 L157.8,525.5 L158.5,526.9 L159.2,528.4 L159.9,529.8 L160.6,531.1 L161.3,532.5 L162,533.8 L162.7,535.1 L163.4,536.4 L164.1,537.7 L164.8,539 L165.5,540.2 L166.2,541.5 L166.9,542.7 L167.7,544 L168.4,545.2 L169.1,546.4 L169.8,547.6 L170.5,548.9 L171.3,550.1 L172,551.3 L172.7,552.5 L173.5,553.8 L174.2,555 L175,556.3 L175.8,557.5 L176.5,558.7 L177.3,560 L178.1,561.3 L178.9,562.5 L179.7,563.8 L180.6,565 L181.4,566.3 L182.2,567.6 L183.1,568.8 L183.9,570.1 L184.8,571.3 L185.6,572.6 L186.5,573.8 L187.4,575.1 L188.3,576.3 L189.2,577.6 L190.1,578.8 L191,580 L192,581.3 L192.9,582.5 L193.8,583.7 L194.8,584.9 L195.8,586.1 L196.7,587.2 L197.7,588.4 L198.7,589.6 L199.7,590.7 L200.7,591.9 L201.7,593 L202.7,594.1 L203.8,595.2 L204.8,596.3 L205.9,597.4 L206.9,598.5 L208,599.6 L209,600.7 L210.1,601.8 L211.2,602.8 L212.2,603.9 L213.3,604.9 L214.4,606 L215.5,607 L216.6,608.1 L217.7,609.1 L218.8,610.1 L219.9,611.1 L221,612.2 L222.1,613.2 L223.2,614.2 L224.3,615.2 L225.4,616.2 L226.6,617.2 L227.7,618.2 L228.8,619.2 L229.9,620.2 L231,621.2 L232.1,622.1 L233.3,623.1 L234.4,624.1 L235.5,625.1 L236.6,626.1 L237.7,627.1 L238.8,628 L239.9,629 L241,630 L242.1,631 L243.2,632 L244.3,632.9 L245.4,633.9 L246.5,634.9 L247.6,635.9 L248.7,636.8 L249.9,637.8 L251,638.8 L252.1,639.8 L253.2,640.7 L254.3,641.7 L255.4,642.7 L256.5,643.6 L257.7,644.6 L258.8,645.6 L260,646.5 L261.1,647.5 L262.2,648.5 L263.4,649.4 L264.6,650.4 L265.7,651.3 L266.9,652.3 L268.1,653.2 L269.3,654.2 L270.5,655.1 L271.7,656.1 L272.9,657 L274.2,658 L275.4,658.9 L276.7,659.8 L277.9,660.8 L279.2,661.7 L280.5,662.6 L281.8,663.6 L283.1,664.5 L284.5,665.4 L285.8,666.3 L287.1,667.1 L288.5,668 L289.8,668.8 L291.2,669.5 L292.5,670.2 L293.9,670.8 L295.3,671.4 L296.6,671.9 L298,672.3 L299.3,672.7 L300.7,673 L302,673.1 L303.3,673.2 L304.7,673.2 L306,673 L307.3,672.8 L308.6,672.5 L309.9,672.1 L311.2,671.6 L312.5,671 L313.7,670.3 L315,669.6 L316.3,668.9 L317.5,668 L318.8,667.2 L320,666.2 L321.3,665.3 L322.5,664.3 L323.7,663.3 L324.9,662.2 L326.2,661.2 L327.4,660.1 L328.6,659 L329.8,657.9 L331,656.8 L332.2,655.7 L333.4,654.7 L334.7,653.6 L335.9,652.6 L337.1,651.6 L338.3,650.6 L339.5,649.6 L340.7,648.6 L341.9,647.7 L343.1,646.7 L344.2,645.8 L345.4,644.9 L346.6,643.9 L347.8,643 L349,642.1 L350.2,641.2 L351.4,640.4 L352.6,639.5 L353.7,638.6 L354.9,637.7 L356.1,636.8 L357.3,635.9 L358.4,635.1 L359.6,634.2 L360.8,633.3 L361.9,632.4 L363.1,631.5 L364.2,630.6 L365.4,629.7 L366.5,628.8 L367.7,627.8 L368.8,626.9 L370,626 L371.1,625 L372.3,624.1 L373.4,623.2 L374.5,622.2 L375.7,621.3 L376.8,620.3 L377.9,619.4 L379.1,618.4 L380.2,617.4 L381.3,616.5 L382.5,615.5 L383.6,614.5 L384.7,613.5 L385.8,612.6 L386.9,611.6 L388.1,610.6 L389.2,609.6 L390.3,608.6 L391.4,607.6 L392.5,606.6 L393.6,605.6 L394.7,604.6 L395.8,603.6 L396.9,602.5 L398,601.5 L399.1,600.5 L400.2,599.5 L401.3,598.5 L402.4,597.4 L403.5,596.4 L404.6,595.4 L405.7,594.4 L406.8,593.3 L407.9,592.3 L409,591.3 L410.1,590.2 L411.2,589.2 L412.3,588.1 L413.4,587.1 L414.5,586.1 L415.6,585 L416.7,584 L417.7,582.9 L418.8,581.9 L419.9,580.8 L421,579.8 L422.1,578.7 L423.2,577.7 L424.3,576.6 L425.4,575.6 L426.4,574.5 L427.5,573.4 L428.6,572.4 L429.7,571.3 L430.8,570.3 L431.9,569.2 L433,568.2 L434,567.1 L435.1,566.1 L436.2,565 L437.3,564 L438.4,562.9 L439.5,561.9 L440.6,560.8 L441.6,559.8 L442.7,558.7 L443.8,557.6 L444.9,556.6 L446,555.6 L447.1,554.5 L448.2,553.5 L449.3,552.4 L450.4,551.4 L451.5,550.3 L452.5,549.3 L453.6,548.2 L454.7,547.2 L455.8,546.2 L456.9,545.1 L458,544.1 L459.1,543.1 L460.2,542.1 L461.3,541 L462.4,540 L463.5,539 L464.6,538 L465.7,536.9 L466.8,535.9 L467.9,534.9 L469,533.9 L470.1,532.9 L471.3,531.9 L472.4,530.9 L473.5,529.9 L474.6,528.9 L475.7,527.9 L476.8,526.9 L478,525.9 L479.1,525 L480.2,524 L481.3,523 L482.4,522 L483.6,521.1 L484.7,520.1" stroke="#e01ed2"/>
</g>
<text x="119.8" y="688.3" font-size="18.8" font-weight="bold" font-style="normal" text-anchor="end" >0.0</text>
<text x="119.8" y="630.5" font-size="18.8" font-weight="bold" font-style="normal" text-anchor="end" >0.2</text>
<text x="119.8" y="572.7" font-size="18.8" font-weight="bold" font-style="normal" text-anchor="end" >0.4</text>
<text x="119.8" y="515" font-size="18.8" font-weight="bold" font-style="normal" text-anchor="end" >0.6</text>
<text x="119.8" y="457.2" font-size="18.8" font-weight="bold" font-style="normal" text-anchor="end" >0.8</text>
<text x="119.8" y="399.4" font-size="18.8" font-weight="bold" font-style="normal" text-anchor="end" >1.0</text>
<text x="126.3" y="703" font-size="18.9" font-weight="bold" font-style="normal" text-anchor="middle" >0.65</text>
<text x="216.1" y="703" font-size="18.9" font-weight="bold" font-style="normal" text-anchor="middle" >0.70</text>
<text x="305.9" y="703" font-size="18.9" font-weight="bold" font-style="normal" text-anchor="middle" >0.75</text>
<text x="395.8" y="703" font-size="18.9" font-weight="bold" font-style="normal" text-anchor="middle" >0.80</text>
<text x="485.6" y="703" font-size="18.9" font-weight="bold" font-style="normal" text-anchor="middle" >0.85</text>
<text x="306.7" y="735.7" font-size="19" font-weight="bold" font-style="normal" text-anchor="middle" >Frequency/THz</text>
<text x="76.7" y="532.5" font-size="18.8" font-weight="bold" font-style="normal" text-anchor="middle" transform="rotate(-90 76.7 532.5)" >Transmission</text>
<line x1="212.8" y1="407.8" x2="243.7" y2="407.8" stroke="#000000" stroke-width="2.2" />
<text x="248.8" y="413" font-size="18.6" font-weight="bold" font-style="normal" text-anchor="start" >n=1.5</text>
<line x1="212.8" y1="431.4" x2="243.7" y2="431.4" stroke="#d8161c" stroke-width="2.2" />
<text x="248.8" y="436.6" font-size="18.6" font-weight="bold" font-style="normal" text-anchor="start" >n=1.6</text>
<line x1="212.8" y1="455" x2="243.7" y2="455" stroke="#22e222" stroke-width="2.2" />
<text x="248.8" y="460.2" font-size="18.6" font-weight="bold" font-style="normal" text-anchor="start" >n=1.7</text>
<line x1="212.8" y1="478.7" x2="243.7" y2="478.7" stroke="#0c0cc0" stroke-width="2.2" />
<text x="248.8" y="483.9" font-size="18.6" font-weight="bold" font-style="normal" text-anchor="start" >n=1.8</text>
<line x1="212.8" y1="502.3" x2="243.7" y2="502.3" stroke="#22e0e6" stroke-width="2.2" />
<text x="248.8" y="507.5" font-size="18.6" font-weight="bold" font-style="normal" text-anchor="start" >n=1.9</text>
<line x1="212.8" y1="525.9" x2="243.7" y2="525.9" stroke="#e01ed2" stroke-width="2.2" />
<text x="248.8" y="531.1" font-size="18.6" font-weight="bold" font-style="normal" text-anchor="start" >n=2</text>
</g>
<g id="plot-d">
<clipPath id="clip-plot-d"><rect x="644.5" y="393.4" width="359" height="288.9"/></clipPath>
<rect x="644.5" y="393.4" width="359" height="288.9" fill="none" stroke="#000" stroke-width="3.3"/>
<line x1="644.5" y1="682.3" x2="644.5" y2="676.6" stroke="#000" stroke-width="2.5" />
<line x1="689.4" y1="682.3" x2="689.4" y2="679" stroke="#000" stroke-width="2" />
<line x1="734.2" y1="682.3" x2="734.2" y2="676.6" stroke="#000" stroke-width="2.5" />
<line x1="779.1" y1="682.3" x2="779.1" y2="679" stroke="#000" stroke-width="2" />
<line x1="824" y1="682.3" x2="824" y2="676.6" stroke="#000" stroke-width="2.5" />
<line x1="868.9" y1="682.3" x2="868.9" y2="679" stroke="#000" stroke-width="2" />
<line x1="913.8" y1="682.3" x2="913.8" y2="676.6" stroke="#000" stroke-width="2.5" />
<line x1="958.6" y1="682.3" x2="958.6" y2="679" stroke="#000" stroke-width="2" />
<line x1="1003.5" y1="682.3" x2="1003.5" y2="676.6" stroke="#000" stroke-width="2.5" />
<line x1="644.5" y1="682.3" x2="650.2" y2="682.3" stroke="#000" stroke-width="2.5" />
<line x1="644.5" y1="653.4" x2="647.8" y2="653.4" stroke="#000" stroke-width="2" />
<line x1="644.5" y1="624.5" x2="650.2" y2="624.5" stroke="#000" stroke-width="2.5" />
<line x1="644.5" y1="595.6" x2="647.8" y2="595.6" stroke="#000" stroke-width="2" />
<line x1="644.5" y1="566.7" x2="650.2" y2="566.7" stroke="#000" stroke-width="2.5" />
<line x1="644.5" y1="537.8" x2="647.8" y2="537.8" stroke="#000" stroke-width="2" />
<line x1="644.5" y1="509" x2="650.2" y2="509" stroke="#000" stroke-width="2.5" />
<line x1="644.5" y1="480.1" x2="647.8" y2="480.1" stroke="#000" stroke-width="2" />
<line x1="644.5" y1="451.2" x2="650.2" y2="451.2" stroke="#000" stroke-width="2.5" />
<line x1="644.5" y1="422.3" x2="647.8" y2="422.3" stroke="#000" stroke-width="2" />
<line x1="644.5" y1="393.4" x2="650.2" y2="393.4" stroke="#000" stroke-width="2.5" />
<g clip-path="url(#clip-plot-d)" fill="none" stroke-width="2.1" stroke-linejoin="round" stroke-linecap="round">
<path d="M645.4,412.8 L646.8,413 L648.3,413.3 L649.7,413.5 L651.2,413.8 L652.6,414 L654.1,414.3 L655.6,414.6 L657,414.8 L658.5,415.1 L659.9,415.3 L661.4,415.6 L662.9,415.8 L664.3,416.1 L665.8,416.4 L667.3,416.6 L668.8,416.9 L670.2,417.2 L671.7,417.4 L673.2,417.7 L674.7,418 L676.2,418.3 L677.6,418.5 L679.1,418.8 L680.6,419.1 L682.1,419.4 L683.6,419.7 L685.1,420 L686.5,420.3 L688,420.6 L689.5,420.9 L691,421.2 L692.5,421.5 L694,421.9 L695.4,422.2 L696.9,422.5 L698.4,422.8 L699.9,423.2 L701.4,423.5 L702.8,423.9 L704.3,424.2 L705.8,424.6 L707.3,424.9 L708.8,425.3 L710.2,425.7 L711.7,426 L713.2,426.4 L714.6,426.8 L716.1,427.2 L717.6,427.6 L719,428 L720.5,428.4 L722,428.8 L723.4,429.2 L724.9,429.7 L726.3,430.1 L727.8,430.5 L729.2,431 L730.7,431.4 L732.1,431.9 L733.5,432.4 L735,432.8 L736.4,433.3 L737.8,433.8 L739.2,434.3 L740.7,434.8 L742.1,435.3 L743.5,435.9 L744.9,436.4 L746.3,436.9 L747.7,437.5 L749.1,438 L750.5,438.6 L751.9,439.1 L753.3,439.7 L754.7,440.3 L756,440.9 L757.4,441.5 L758.8,442.1 L760.1,442.7 L761.5,443.4 L762.8,444 L764.2,444.7 L765.5,445.3 L766.9,446 L768.2,446.7 L769.5,447.4 L770.8,448.1 L772.1,448.8 L773.5,449.5 L774.8,450.2 L776,450.9 L777.3,451.7 L778.6,452.5 L779.9,453.2 L781.2,454 L782.4,454.8 L783.7,455.6 L784.9,456.4 L786.2,457.3 L787.4,458.1 L788.6,458.9 L789.8,459.8 L791.1,460.7 L792.3,461.6 L793.5,462.5 L794.6,463.4 L795.8,464.3 L797,465.2 L798.2,466.2 L799.3,467.1 L800.5,468.1 L801.6,469 L802.8,470 L803.9,471 L805,472 L806.1,473 L807.2,474 L808.3,475.1 L809.4,476.1 L810.5,477.2 L811.5,478.2 L812.6,479.3 L813.6,480.4 L814.7,481.4 L815.7,482.5 L816.7,483.6 L817.8,484.8 L818.8,485.9 L819.8,487 L820.7,488.1 L821.7,489.3 L822.7,490.5 L823.6,491.6 L824.6,492.8 L825.5,494 L826.5,495.2 L827.4,496.3 L828.3,497.5 L829.2,498.8 L830.1,500 L830.9,501.2 L831.8,502.4 L832.7,503.7 L833.5,504.9 L834.4,506.2 L835.2,507.4 L836,508.7 L836.8,510 L837.6,511.2 L838.4,512.5 L839.1,513.8 L839.9,515.1 L840.7,516.4 L841.4,517.7 L842.1,519 L842.8,520.4 L843.5,521.7 L844.2,523 L844.9,524.4 L845.6,525.7 L846.2,527 L846.9,528.4 L847.5,529.8 L848.1,531.1 L848.7,532.5 L849.3,533.9 L849.9,535.2 L850.5,536.6 L851.1,538 L851.6,539.4 L852.2,540.8 L852.7,542.2 L853.2,543.6 L853.7,545 L854.2,546.4 L854.7,547.8 L855.2,549.2 L855.7,550.6 L856.2,552.1 L856.6,553.5 L857.1,554.9 L857.5,556.3 L858,557.8 L858.4,559.2 L858.8,560.6 L859.3,562.1 L859.7,563.5 L860.1,565 L860.5,566.4 L860.9,567.9 L861.3,569.3 L861.7,570.8 L862.2,572.3 L862.6,573.7 L863,575.2 L863.4,576.6 L863.7,578.1 L864.1,579.6 L864.5,581 L864.9,582.5 L865.3,584 L865.7,585.4 L866.1,586.9 L866.5,588.4 L866.9,589.9 L867.3,591.3 L867.7,592.8 L868.1,594.3 L868.5,595.7 L868.9,597.2 L869.3,598.7 L869.7,600.2 L870.1,601.6 L870.5,603.1 L870.9,604.5 L871.3,606 L871.7,607.5 L872,608.9 L872.4,610.4 L872.8,611.8 L873.1,613.3 L873.5,614.7 L873.8,616.1 L874.2,617.6 L874.5,619 L874.8,620.4 L875.2,621.8 L875.5,623.2 L875.8,624.6 L876.1,626 L876.4,627.4 L876.6,628.8 L876.9,630.2 L877.2,631.5 L877.4,632.9 L877.7,634.3 L877.9,635.7 L878.2,637.1 L878.4,638.5 L878.7,639.9 L878.9,641.4 L879.2,642.9 L879.4,644.5 L879.7,646.1 L880,647.8 L880.3,649.5 L880.6,651.3 L880.9,653.1 L881.2,655.1 L881.6,657 L882,658.9 L882.4,660.5 L882.8,661.8 L883.2,662.7 L883.7,663 L884.1,662.7 L884.6,661.8 L885.1,660.5 L885.6,658.8 L886,657 L886.5,655.2 L886.9,653.3 L887.2,651.5 L887.6,649.8 L887.9,648.1 L888.2,646.4 L888.5,644.8 L888.7,643.2 L889,641.7 L889.2,640.2 L889.4,638.7 L889.6,637.2 L889.7,635.8 L889.9,634.3 L890.1,632.9 L890.2,631.5 L890.4,630.1 L890.5,628.7 L890.7,627.3 L890.8,625.9 L891,624.5 L891.2,623.1 L891.3,621.7 L891.5,620.3 L891.7,618.8 L891.9,617.4 L892.1,616 L892.3,614.5 L892.5,613.1 L892.7,611.6 L892.9,610.2 L893.1,608.7 L893.3,607.2 L893.6,605.8 L893.8,604.3 L894,602.8 L894.2,601.3 L894.5,599.8 L894.7,598.3 L894.9,596.8 L895.2,595.4 L895.4,593.9 L895.6,592.4 L895.9,590.9 L896.1,589.4 L896.3,587.8 L896.6,586.3 L896.8,584.8 L897.1,583.3 L897.3,581.8 L897.5,580.3 L897.8,578.8 L898,577.3 L898.2,575.8 L898.5,574.3 L898.7,572.8 L898.9,571.3 L899.1,569.8 L899.3,568.2 L899.6,566.7 L899.8,565.2 L900,563.7 L900.2,562.2 L900.4,560.7 L900.6,559.3 L900.8,557.8 L901,556.3 L901.1,554.8 L901.3,553.3 L901.5,551.8 L901.7,550.3 L901.9,548.9 L902,547.4 L902.2,545.9 L902.4,544.4 L902.6,542.9 L902.7,541.5 L902.9,540 L903.1,538.5 L903.2,537 L903.4,535.6 L903.6,534.1 L903.7,532.6 L903.9,531.1 L904.1,529.7 L904.2,528.2 L904.4,526.7 L904.6,525.2 L904.8,523.8 L904.9,522.3 L905.1,520.8 L905.3,519.3 L905.5,517.8 L905.7,516.4 L905.9,514.9 L906,513.4 L906.2,511.9 L906.4,510.4 L906.7,508.9 L906.9,507.4 L907.1,505.9 L907.3,504.4 L907.5,502.9 L907.8,501.4 L908,499.9 L908.2,498.4 L908.5,496.9 L908.7,495.4 L909,493.9 L909.3,492.4 L909.5,490.8 L909.8,489.3 L910.1,487.8 L910.3,486.3 L910.6,484.8 L910.9,483.3 L911.2,481.8 L911.4,480.3 L911.7,478.9 L912,477.4 L912.3,475.9 L912.5,474.5 L912.8,473 L913.1,471.6 L913.3,470.2 L913.6,468.8 L913.9,467.4 L914.1,466 L914.4,464.7 L914.6,463.3 L914.9,461.9 L915.1,460.6 L915.4,459.2 L915.6,457.8 L915.9,456.3 L916.2,454.9 L916.5,453.4 L916.8,451.8 L917.1,450.2 L917.4,448.6 L917.8,446.9 L918.2,445.2 L918.6,443.5 L919,441.8 L919.5,440.1 L920.1,438.4 L920.7,436.9 L921.3,435.4 L922.1,434.1 L922.9,432.8 L923.8,431.8 L924.7,430.9 L925.8,430.2 L927,429.7 L928.1,429.7 L929.3,430 L930.5,430.7 L931.6,431.6 L932.6,432.8 L933.5,434 L934.3,435.4 L935.1,436.9 L935.7,438.4 L936.4,440 L936.9,441.6 L937.5,443.2 L938,444.8 L938.5,446.3 L939.1,447.8 L939.6,449.3 L940.1,450.8 L940.5,452.2 L941,453.7 L941.5,455.1 L942,456.5 L942.4,457.9 L942.9,459.3 L943.3,460.7 L943.8,462.1 L944.2,463.5 L944.7,464.9 L945.1,466.4 L945.5,467.8 L945.9,469.2 L946.3,470.6 L946.8,472 L947.2,473.5 L947.6,474.9 L948,476.3 L948.4,477.8 L948.7,479.2 L949.1,480.6 L949.5,482.1 L949.9,483.5 L950.3,485 L950.6,486.4 L951,487.9 L951.4,489.3 L951.7,490.8 L952.1,492.2 L952.4,493.7 L952.8,495.1 L953.1,496.6 L953.5,498 L953.8,499.5 L954.1,501 L954.5,502.4 L954.8,503.9 L955.1,505.4 L955.5,506.8 L955.8,508.3 L956.1,509.8 L956.4,511.2 L956.7,512.7 L957.1,514.2 L957.4,515.6 L957.7,517.1 L958,518.6 L958.3,520.1 L958.6,521.5 L958.9,523 L959.2,524.5 L959.5,526 L959.8,527.5 L960.1,528.9 L960.4,530.4 L960.7,531.9 L961,533.4 L961.2,534.9 L961.5,536.3 L961.8,537.8 L962.1,539.3 L962.4,540.8 L962.7,542.3 L963,543.7 L963.2,545.2 L963.5,546.7 L963.8,548.2 L964.1,549.7 L964.4,551.2 L964.6,552.6 L964.9,554.1 L965.2,555.6 L965.5,557.1 L965.8,558.6 L966,560 L966.3,561.5 L966.6,563 L966.9,564.5 L967.2,566 L967.5,567.4 L967.7,568.9 L968,570.4 L968.3,571.9 L968.6,573.3 L968.9,574.8 L969.2,576.3 L969.4,577.8 L969.7,579.2 L970,580.7 L970.3,582.2 L970.6,583.6 L970.9,585.1 L971.1,586.6 L971.4,588.1 L971.7,589.5 L972,591 L972.3,592.5 L972.6,593.9 L972.8,595.4 L973.1,596.9 L973.4,598.4 L973.7,599.8 L974,601.3 L974.3,602.8 L974.5,604.2 L974.8,605.7 L975.1,607.2 L975.4,608.7 L975.6,610.1 L975.9,611.6 L976.2,613.1 L976.5,614.5 L976.7,616 L977,617.5 L977.3,619 L977.6,620.4 L977.8,621.9 L978.1,623.4 L978.4,624.9 L978.6,626.3 L978.9,627.8 L979.1,629.3 L979.4,630.8 L979.7,632.3 L979.9,633.7 L980.2,635.2 L980.4,636.7 L980.7,638.2 L980.9,639.7 L981.2,641.1 L981.4,642.6 L981.7,644.1 L981.9,645.6 L982.1,647.1 L982.4,648.6 L982.6,650 L982.9,651.5 L983.1,653 L983.3,654.5 L983.6,656 L983.8,657.5 L983.8,657.7 L983.9,658.1 L984,658.5 L984.1,658.7 L984.2,658.8 L984.4,658.8 L984.6,658.7 L984.8,658.6 L985.1,658.3 L985.9,657.7 L986.2,657.6 L986.4,657.4 L986.6,657.2 L986.8,656.9 L987,656.7 L987.1,656.4 L987.2,656.1 L987.3,655.7 L987.4,655.5 L987.7,654.1 L988,652.6 L988.4,651.1 L988.7,649.6 L989,648.1 L989.3,646.7 L989.6,645.2 L989.9,643.7 L990.1,642.2 L990.4,640.7 L990.7,639.2 L991,637.7 L991.2,636.3 L991.5,634.8 L991.7,633.3 L992,631.8 L992.3,630.3 L992.5,628.8 L992.8,627.3 L993,625.8 L993.3,624.3 L993.5,622.8 L993.8,621.3 L994,619.8 L994.3,618.3 L994.5,616.9 L994.8,615.4 L995,613.9 L995.3,612.4 L995.6,610.9 L995.9,609.4 L996.1,607.9 L996.4,606.4 L996.7,605 L997,603.5 L997.3,602 L997.6,600.5 L997.9,599 L998.3,597.6 L998.6,596.1 L999,594.6 L999.3,593.2 L999.7,591.7 L1000.1,590.2 L1000.5,588.8 L1000.9,587.3 L1001.3,585.8 L1001.7,584.4 L1002.1,582.9 L1002.6,581.5" stroke="#000000"/>
<path d="M645.4,416.8 L646.8,417.1 L648.3,417.3 L649.7,417.6 L651.1,417.9 L652.6,418.2 L654,418.5 L655.5,418.8 L656.9,419.1 L658.3,419.4 L659.8,419.7 L661.3,420 L662.7,420.3 L664.2,420.6 L665.6,421 L667.1,421.3 L668.5,421.6 L670,422 L671.5,422.3 L672.9,422.7 L674.4,423 L675.8,423.4 L677.3,423.8 L678.8,424.1 L680.2,424.5 L681.7,424.9 L683.2,425.3 L684.6,425.7 L686.1,426.1 L687.5,426.5 L689,426.9 L690.5,427.4 L691.9,427.8 L693.4,428.2 L694.9,428.7 L696.3,429.1 L697.8,429.6 L699.2,430 L700.7,430.5 L702.1,431 L703.6,431.4 L705,431.9 L706.5,432.4 L707.9,432.9 L709.3,433.4 L710.8,433.9 L712.2,434.5 L713.6,435 L715.1,435.5 L716.5,436.1 L717.9,436.6 L719.3,437.2 L720.8,437.7 L722.2,438.3 L723.6,438.9 L725,439.5 L726.4,440 L727.8,440.6 L729.2,441.3 L730.6,441.9 L732,442.5 L733.3,443.1 L734.7,443.8 L736.1,444.4 L737.4,445.1 L738.8,445.7 L740.2,446.4 L741.5,447.1 L742.9,447.8 L744.2,448.5 L745.5,449.2 L746.9,449.9 L748.2,450.6 L749.5,451.3 L750.8,452 L752.1,452.8 L753.4,453.5 L754.7,454.3 L756,455.1 L757.2,455.9 L758.5,456.6 L759.8,457.4 L761,458.3 L762.3,459.1 L763.5,459.9 L764.8,460.7 L766,461.6 L767.2,462.4 L768.4,463.3 L769.6,464.2 L770.8,465 L772,465.9 L773.2,466.8 L774.3,467.7 L775.5,468.6 L776.6,469.6 L777.8,470.5 L778.9,471.5 L780,472.4 L781.1,473.4 L782.2,474.4 L783.3,475.3 L784.4,476.3 L785.5,477.4 L786.6,478.4 L787.6,479.4 L788.6,480.4 L789.7,481.5 L790.7,482.5 L791.7,483.6 L792.7,484.7 L793.7,485.8 L794.7,486.9 L795.7,488 L796.6,489.1 L797.6,490.3 L798.5,491.4 L799.4,492.6 L800.3,493.7 L801.2,494.9 L802.1,496.1 L803,497.3 L803.9,498.5 L804.7,499.7 L805.6,500.9 L806.4,502.1 L807.3,503.4 L808.1,504.6 L808.9,505.8 L809.7,507.1 L810.5,508.4 L811.3,509.7 L812.1,510.9 L812.8,512.2 L813.6,513.5 L814.3,514.8 L815.1,516.1 L815.8,517.5 L816.5,518.8 L817.2,520.1 L817.9,521.5 L818.6,522.8 L819.3,524.1 L820,525.5 L820.6,526.9 L821.3,528.2 L822,529.6 L822.6,531 L823.2,532.4 L823.9,533.8 L824.5,535.1 L825.1,536.5 L825.7,537.9 L826.3,539.4 L826.9,540.8 L827.5,542.2 L828,543.6 L828.6,545 L829.1,546.4 L829.7,547.9 L830.2,549.3 L830.8,550.7 L831.3,552.2 L831.8,553.6 L832.3,555 L832.9,556.5 L833.4,557.9 L833.9,559.4 L834.3,560.8 L834.8,562.3 L835.3,563.7 L835.8,565.2 L836.2,566.6 L836.7,568.1 L837.2,569.6 L837.6,571 L838,572.5 L838.5,573.9 L838.9,575.4 L839.3,576.9 L839.8,578.3 L840.2,579.8 L840.6,581.2 L841,582.7 L841.4,584.1 L841.8,585.6 L842.2,587.1 L842.5,588.5 L842.9,590 L843.3,591.4 L843.7,592.9 L844,594.3 L844.4,595.8 L844.7,597.2 L845.1,598.6 L845.4,600.1 L845.8,601.5 L846.1,603 L846.5,604.4 L846.8,605.8 L847.1,607.2 L847.5,608.7 L847.8,610.1 L848.1,611.5 L848.4,612.9 L848.7,614.3 L849.1,615.7 L849.4,617.1 L849.7,618.4 L850,619.8 L850.3,621.2 L850.6,622.5 L850.9,623.8 L851.2,625.2 L851.5,626.5 L851.9,627.8 L852.2,629.2 L852.5,630.5 L852.8,631.9 L853.1,633.2 L853.5,634.7 L853.8,636.1 L854.1,637.6 L854.5,639.2 L854.8,640.8 L855.1,642.4 L855.5,644.2 L855.8,646 L856.2,647.9 L856.6,649.8 L856.9,651.9 L857.3,654 L857.7,656 L858.1,658 L858.5,659.7 L858.9,661.3 L859.4,662.6 L859.8,663.5 L860.3,664.1 L860.7,664.1 L861.2,663.7 L861.7,662.8 L862.2,661.5 L862.7,659.9 L863.1,658.2 L863.6,656.4 L864,654.5 L864.4,652.8 L864.7,651.1 L865,649.4 L865.3,647.8 L865.5,646.3 L865.8,644.8 L866,643.3 L866.2,641.9 L866.4,640.5 L866.5,639.1 L866.7,637.7 L866.9,636.3 L867,634.9 L867.2,633.5 L867.4,632.1 L867.5,630.7 L867.7,629.2 L867.9,627.8 L868.1,626.3 L868.3,624.8 L868.5,623.4 L868.7,621.9 L868.9,620.4 L869.1,618.9 L869.3,617.4 L869.5,615.8 L869.7,614.3 L869.9,612.8 L870.1,611.3 L870.3,609.8 L870.5,608.3 L870.7,606.8 L870.9,605.3 L871.1,603.8 L871.3,602.3 L871.4,600.8 L871.6,599.3 L871.8,597.8 L872,596.3 L872.2,594.8 L872.3,593.3 L872.5,591.8 L872.7,590.4 L872.8,588.9 L873,587.4 L873.2,585.9 L873.3,584.4 L873.5,582.9 L873.7,581.4 L873.8,580 L874,578.5 L874.1,577 L874.3,575.5 L874.5,574 L874.6,572.5 L874.8,571 L874.9,569.5 L875.1,568 L875.3,566.5 L875.4,565 L875.6,563.5 L875.7,562 L875.9,560.5 L876.1,559.1 L876.2,557.6 L876.4,556.1 L876.5,554.6 L876.7,553.1 L876.9,551.6 L877,550.1 L877.2,548.6 L877.3,547.1 L877.5,545.6 L877.7,544.1 L877.8,542.6 L878,541.1 L878.2,539.6 L878.4,538.1 L878.5,536.6 L878.7,535.1 L878.9,533.6 L879.1,532.1 L879.2,530.6 L879.4,529.1 L879.6,527.6 L879.8,526.2 L880,524.7 L880.1,523.2 L880.3,521.7 L880.5,520.2 L880.7,518.7 L880.9,517.2 L881.1,515.7 L881.3,514.3 L881.5,512.8 L881.7,511.3 L881.9,509.8 L882.1,508.3 L882.3,506.8 L882.6,505.4 L882.8,503.9 L883,502.4 L883.2,500.9 L883.4,499.4 L883.6,498 L883.8,496.5 L884.1,495 L884.3,493.5 L884.5,492 L884.7,490.6 L884.9,489.1 L885.2,487.6 L885.4,486.1 L885.6,484.6 L885.8,483.2 L886,481.7 L886.2,480.2 L886.4,478.7 L886.6,477.2 L886.8,475.7 L887,474.2 L887.2,472.7 L887.4,471.2 L887.6,469.7 L887.8,468.2 L888,466.7 L888.2,465.2 L888.4,463.7 L888.6,462.2 L888.8,460.7 L889,459.2 L889.2,457.7 L889.4,456.2 L889.6,454.7 L889.8,453.2 L890.1,451.7 L890.4,450.2 L890.7,448.8 L891.1,447.3 L891.4,445.8 L891.8,444.4 L892.3,442.9 L892.8,441.4 L893.3,440 L893.9,438.6 L894.5,437.2 L895.1,435.8 L895.9,434.4 L896.6,433 L897.5,431.6 L898.4,430.4 L899.3,429.3 L900.4,428.5 L901.5,428.2 L902.7,428.3 L903.9,428.9 L905.1,429.8 L906.2,430.9 L907.2,432.1 L908.1,433.4 L908.8,434.8 L909.5,436.3 L910,437.8 L910.5,439.4 L911,441 L911.4,442.6 L911.8,444.2 L912.2,445.8 L912.6,447.3 L913,448.8 L913.4,450.3 L913.8,451.7 L914.2,453.2 L914.7,454.6 L915.1,456 L915.5,457.4 L916,458.8 L916.4,460.2 L916.8,461.6 L917.2,463 L917.6,464.4 L918,465.8 L918.4,467.2 L918.8,468.7 L919.2,470.1 L919.5,471.5 L919.9,473 L920.2,474.4 L920.6,475.9 L921,477.4 L921.3,478.8 L921.6,480.3 L922,481.7 L922.3,483.2 L922.7,484.7 L923,486.1 L923.3,487.6 L923.7,489.1 L924,490.5 L924.3,492 L924.6,493.5 L925,494.9 L925.3,496.4 L925.6,497.9 L925.9,499.3 L926.2,500.8 L926.5,502.3 L926.8,503.8 L927.2,505.2 L927.5,506.7 L927.8,508.2 L928.1,509.7 L928.4,511.1 L928.7,512.6 L929,514.1 L929.3,515.6 L929.6,517 L929.9,518.5 L930.1,520 L930.4,521.5 L930.7,522.9 L931,524.4 L931.3,525.9 L931.6,527.4 L931.9,528.8 L932.2,530.3 L932.5,531.8 L932.7,533.3 L933,534.8 L933.3,536.2 L933.6,537.7 L933.9,539.2 L934.1,540.7 L934.4,542.1 L934.7,543.6 L935,545.1 L935.3,546.6 L935.5,548.1 L935.8,549.5 L936.1,551 L936.4,552.5 L936.7,554 L936.9,555.4 L937.2,556.9 L937.5,558.4 L937.8,559.9 L938,561.3 L938.3,562.8 L938.6,564.3 L938.9,565.8 L939.2,567.2 L939.4,568.7 L939.7,570.2 L940,571.6 L940.3,573.1 L940.6,574.6 L940.8,576 L941.1,577.5 L941.4,579 L941.7,580.4 L942,581.9 L942.3,583.4 L942.6,584.8 L942.9,586.3 L943.1,587.8 L943.4,589.2 L943.7,590.7 L944,592.1 L944.3,593.6 L944.6,595.1 L944.9,596.5 L945.2,598 L945.5,599.4 L945.8,600.9 L946.1,602.4 L946.4,603.8 L946.7,605.3 L946.9,606.7 L947.2,608.2 L947.5,609.7 L947.8,611.2 L948.1,612.6 L948.4,614.1 L948.7,615.6 L949,617.1 L949.2,618.5 L949.5,620 L949.8,621.5 L950.1,623 L950.4,624.5 L950.6,626 L950.9,627.5 L951.2,629 L951.4,630.5 L951.7,632 L952,633.5 L952.2,635.1 L952.5,636.6 L952.7,638.1 L953,639.7 L953.2,641.2 L953.5,642.7 L953.8,644.3 L954.1,645.8 L954.4,647.4 L954.7,648.9 L955.1,650.5 L955.4,652 L955.8,653.6 L956.3,655.1 L956.8,656.7 L957.3,658.1 L957.8,659.2 L958.3,659.9 L958.8,660 L959.3,659.4 L959.8,658.3 L960.2,656.9 L960.7,655.2 L961.1,653.2 L961.5,651.2 L961.9,649.2 L962.3,647.3 L962.6,645.5 L963,643.8 L963.3,642.1 L963.6,640.5 L963.9,639 L964.2,637.5 L964.5,636 L964.8,634.6 L965,633.2 L965.3,631.8 L965.6,630.5 L965.8,629.1 L966.1,627.8 L966.3,626.4 L966.6,625.1 L966.9,623.7 L967.1,622.3 L967.4,620.9 L967.7,619.5 L968,618.1 L968.2,616.6 L968.5,615.2 L968.8,613.7 L969.1,612.2 L969.4,610.8 L969.7,609.3 L970,607.8 L970.3,606.3 L970.6,604.8 L970.9,603.3 L971.2,601.8 L971.5,600.3 L971.8,598.8 L972.1,597.3 L972.4,595.9 L972.7,594.4 L973,592.9 L973.4,591.4 L973.7,589.9 L974,588.5 L974.3,587 L974.6,585.5 L975,584 L975.3,582.6 L975.6,581.1 L976,579.6 L976.3,578.1 L976.6,576.7 L977,575.2 L977.3,573.7 L977.7,572.3 L978,570.8 L978.4,569.3 L978.7,567.9 L979.1,566.4 L979.4,565 L979.8,563.5 L980.2,562.1 L980.5,560.6 L980.9,559.1 L981.3,557.7 L981.6,556.2 L982,554.8 L982.4,553.3 L982.8,551.9 L983.2,550.4 L983.5,549 L983.9,547.6 L984.3,546.1 L984.7,544.7 L985.1,543.2 L985.5,541.8 L985.9,540.3 L986.3,538.9 L986.7,537.5 L987.2,536 L987.6,534.6 L988,533.2 L988.4,531.7 L988.8,530.3 L989.3,528.9 L989.7,527.4 L990.1,526 L990.6,524.6 L991,523.1 L991.5,521.7 L991.9,520.3 L992.4,518.8 L992.8,517.4 L993.3,516 L993.7,514.6 L994.2,513.1 L994.7,511.7 L995.2,510.3 L995.6,508.9 L996.1,507.4 L996.6,506 L997.1,504.6 L997.6,503.2 L998.1,501.8 L998.6,500.3 L999.1,498.9 L999.6,497.5 L1000.1,496.1 L1000.6,494.7 L1001.1,493.2 L1001.6,491.8 L1002.2,490.4 L1002.7,489" stroke="#d8161c"/>
<path d="M645.4,424.9 L646.9,425.1 L648.4,425.4 L649.9,425.6 L651.3,425.9 L652.8,426.1 L654.3,426.4 L655.8,426.7 L657.3,427 L658.8,427.3 L660.2,427.7 L661.7,428 L663.2,428.3 L664.6,428.7 L666.1,429 L667.6,429.4 L669,429.8 L670.5,430.2 L671.9,430.6 L673.4,431 L674.8,431.4 L676.3,431.8 L677.7,432.3 L679.2,432.7 L680.6,433.2 L682,433.6 L683.5,434.1 L684.9,434.6 L686.3,435.1 L687.7,435.6 L689.2,436.1 L690.6,436.7 L692,437.2 L693.4,437.8 L694.8,438.3 L696.2,438.9 L697.6,439.5 L698.9,440 L700.3,440.6 L701.7,441.2 L703.1,441.9 L704.4,442.5 L705.8,443.1 L707.2,443.8 L708.5,444.4 L709.9,445.1 L711.2,445.8 L712.5,446.4 L713.9,447.1 L715.2,447.8 L716.5,448.5 L717.8,449.3 L719.1,450 L720.4,450.7 L721.7,451.5 L723,452.2 L724.3,453 L725.6,453.8 L726.9,454.6 L728.1,455.4 L729.4,456.2 L730.7,457 L731.9,457.8 L733.1,458.6 L734.4,459.5 L735.6,460.3 L736.8,461.2 L738,462.1 L739.2,463 L740.4,463.9 L741.6,464.8 L742.8,465.7 L744,466.6 L745.2,467.5 L746.3,468.4 L747.5,469.4 L748.6,470.3 L749.7,471.3 L750.9,472.3 L752,473.3 L753.1,474.3 L754.2,475.3 L755.3,476.3 L756.4,477.3 L757.5,478.3 L758.5,479.4 L759.6,480.4 L760.7,481.5 L761.7,482.5 L762.7,483.6 L763.8,484.7 L764.8,485.8 L765.8,486.9 L766.8,488 L767.8,489.1 L768.7,490.2 L769.7,491.4 L770.7,492.5 L771.6,493.7 L772.6,494.9 L773.5,496 L774.4,497.2 L775.3,498.4 L776.2,499.6 L777.1,500.8 L778,502 L778.9,503.3 L779.7,504.5 L780.6,505.7 L781.4,507 L782.2,508.3 L783,509.5 L783.9,510.8 L784.7,512.1 L785.4,513.4 L786.2,514.7 L787,516 L787.8,517.3 L788.5,518.6 L789.2,519.9 L790,521.2 L790.7,522.6 L791.4,523.9 L792.1,525.2 L792.8,526.6 L793.5,527.9 L794.2,529.3 L794.9,530.7 L795.5,532 L796.2,533.4 L796.8,534.8 L797.4,536.2 L798.1,537.6 L798.7,538.9 L799.3,540.3 L799.9,541.7 L800.5,543.1 L801.1,544.5 L801.7,545.9 L802.2,547.3 L802.8,548.7 L803.3,550.1 L803.9,551.6 L804.4,553 L805,554.4 L805.5,555.8 L806,557.2 L806.5,558.6 L807,560 L807.5,561.5 L808,562.9 L808.5,564.3 L808.9,565.7 L809.4,567.1 L809.9,568.6 L810.3,570 L810.7,571.4 L811.2,572.8 L811.6,574.2 L812,575.6 L812.4,577.1 L812.9,578.5 L813.3,579.9 L813.7,581.3 L814.1,582.7 L814.4,584.1 L814.8,585.6 L815.2,587 L815.6,588.4 L815.9,589.8 L816.3,591.2 L816.6,592.7 L817,594.1 L817.3,595.5 L817.6,597 L818,598.4 L818.3,599.9 L818.6,601.3 L818.9,602.8 L819.3,604.2 L819.6,605.7 L819.9,607.1 L820.2,608.6 L820.5,610.1 L820.8,611.6 L821,613 L821.3,614.5 L821.6,616 L821.9,617.5 L822.2,619 L822.4,620.6 L822.7,622.1 L822.9,623.6 L823.2,625.2 L823.5,626.7 L823.7,628.3 L824,629.8 L824.2,631.4 L824.5,632.9 L824.8,634.5 L825,636.1 L825.3,637.6 L825.6,639.2 L825.9,640.7 L826.2,642.3 L826.5,643.8 L826.9,645.3 L827.2,646.8 L827.6,648.3 L828,649.8 L828.4,651.3 L828.8,652.7 L829.3,654.1 L829.8,655.5 L830.3,656.9 L830.8,658.3 L831.4,659.6 L832,660.8 L832.6,661.6 L833.2,661.7 L833.8,661 L834.5,659.9 L835,658.4 L835.6,656.7 L836,654.9 L836.4,653.2 L836.8,651.5 L837.1,649.8 L837.3,648.2 L837.5,646.6 L837.7,644.9 L837.8,643.3 L837.9,641.7 L838,640.2 L838.2,638.6 L838.3,637.1 L838.4,635.6 L838.5,634 L838.7,632.5 L838.9,631 L839,629.6 L839.2,628.1 L839.4,626.6 L839.6,625.2 L839.8,623.7 L840.1,622.2 L840.3,620.8 L840.5,619.3 L840.7,617.9 L840.9,616.4 L841.1,614.9 L841.3,613.5 L841.5,612 L841.7,610.5 L841.9,609 L842.1,607.5 L842.3,606.1 L842.4,604.6 L842.6,603.1 L842.8,601.6 L842.9,600.1 L843.1,598.6 L843.3,597.1 L843.4,595.6 L843.6,594.1 L843.7,592.6 L843.9,591.1 L844.1,589.6 L844.2,588.1 L844.4,586.6 L844.5,585.1 L844.7,583.6 L844.9,582.1 L845,580.6 L845.2,579.1 L845.3,577.6 L845.5,576.1 L845.7,574.6 L845.8,573.1 L846,571.6 L846.1,570.1 L846.3,568.6 L846.5,567.1 L846.6,565.6 L846.8,564.1 L846.9,562.6 L847.1,561.2 L847.2,559.7 L847.4,558.2 L847.6,556.7 L847.7,555.2 L847.9,553.7 L848,552.2 L848.2,550.7 L848.4,549.2 L848.5,547.8 L848.7,546.3 L848.9,544.8 L849,543.3 L849.2,541.8 L849.3,540.3 L849.5,538.8 L849.7,537.3 L849.8,535.8 L850,534.3 L850.1,532.9 L850.3,531.4 L850.5,529.9 L850.6,528.4 L850.8,526.9 L851,525.4 L851.1,523.9 L851.3,522.4 L851.5,520.9 L851.6,519.4 L851.8,517.9 L852,516.4 L852.1,514.9 L852.3,513.4 L852.5,511.9 L852.6,510.5 L852.8,509 L853,507.5 L853.1,506 L853.3,504.5 L853.5,503 L853.6,501.5 L853.8,500 L854,498.5 L854.2,497 L854.3,495.5 L854.5,494 L854.7,492.5 L854.9,491 L855,489.5 L855.2,488 L855.4,486.5 L855.6,485 L855.8,483.5 L855.9,482 L856.1,480.5 L856.3,479 L856.5,477.6 L856.7,476.1 L856.9,474.6 L857.1,473.1 L857.3,471.6 L857.5,470.2 L857.7,468.7 L857.8,467.2 L858,465.8 L858.2,464.3 L858.5,462.8 L858.7,461.4 L858.9,459.9 L859.1,458.4 L859.3,457 L859.5,455.5 L859.7,454 L860,452.5 L860.2,451 L860.4,449.5 L860.7,448 L861,446.4 L861.3,444.9 L861.6,443.3 L862.1,441.8 L862.5,440.2 L863.1,438.7 L863.8,437.2 L864.6,435.7 L865.5,434.3 L866.5,433.1 L867.5,432.3 L868.6,432 L869.7,432.3 L870.7,433 L871.8,434.1 L872.7,435.4 L873.6,436.8 L874.4,438.2 L875.1,439.6 L875.7,441 L876.3,442.5 L876.8,444 L877.2,445.4 L877.6,446.9 L878,448.4 L878.4,449.9 L878.8,451.4 L879.2,452.9 L879.5,454.4 L879.9,455.9 L880.3,457.3 L880.6,458.8 L881,460.3 L881.3,461.8 L881.7,463.2 L882,464.7 L882.4,466.2 L882.7,467.6 L883.1,469.1 L883.4,470.5 L883.7,472 L884,473.5 L884.4,474.9 L884.7,476.4 L885,477.8 L885.3,479.3 L885.7,480.7 L886,482.2 L886.3,483.6 L886.6,485.1 L886.9,486.6 L887.2,488 L887.6,489.5 L887.9,490.9 L888.2,492.4 L888.5,493.9 L888.8,495.3 L889.1,496.8 L889.4,498.2 L889.7,499.7 L890,501.2 L890.3,502.6 L890.6,504.1 L890.9,505.6 L891.2,507.1 L891.5,508.5 L891.8,510 L892.2,511.5 L892.5,512.9 L892.8,514.4 L893.1,515.9 L893.4,517.4 L893.7,518.8 L894,520.3 L894.3,521.8 L894.6,523.2 L894.9,524.7 L895.2,526.2 L895.5,527.7 L895.8,529.1 L896.1,530.6 L896.3,532.1 L896.6,533.6 L896.9,535.1 L897.2,536.5 L897.5,538 L897.8,539.5 L898.1,541 L898.4,542.4 L898.7,543.9 L899,545.4 L899.3,546.9 L899.6,548.3 L899.9,549.8 L900.2,551.3 L900.5,552.8 L900.8,554.2 L901.1,555.7 L901.4,557.2 L901.7,558.7 L902,560.1 L902.3,561.6 L902.6,563.1 L902.9,564.5 L903.2,566 L903.5,567.5 L903.8,569 L904.1,570.4 L904.4,571.9 L904.7,573.4 L905,574.8 L905.3,576.3 L905.7,577.8 L906,579.2 L906.3,580.7 L906.6,582.2 L906.9,583.6 L907.2,585.1 L907.5,586.6 L907.8,588 L908.1,589.5 L908.4,591 L908.8,592.4 L909.1,593.9 L909.4,595.4 L909.7,596.8 L910,598.3 L910.4,599.7 L910.7,601.2 L911,602.7 L911.3,604.1 L911.7,605.6 L912,607.1 L912.3,608.5 L912.6,610 L913,611.4 L913.3,612.9 L913.6,614.4 L914,615.8 L914.3,617.3 L914.6,618.8 L914.9,620.2 L915.2,621.7 L915.5,623.2 L915.8,624.6 L916.1,626.1 L916.4,627.6 L916.6,629.1 L916.9,630.5 L917.1,632 L917.4,633.5 L917.6,635 L917.8,636.5 L918,638 L918.2,639.5 L918.4,641 L918.6,642.5 L918.8,644 L919.1,645.5 L919.4,647 L919.8,648.6 L920.3,650.1 L920.7,651.6 L921.3,653.1 L922,654.6 L922.7,656.2 L923.5,657.6 L924.3,658.8 L925.2,659.6 L926,659.8 L926.7,659.5 L927.4,658.7 L928.1,657.5 L928.7,655.9 L929.2,654.2 L929.7,652.3 L930.2,650.4 L930.6,648.5 L931,646.6 L931.4,644.9 L931.8,643.2 L932.1,641.5 L932.4,639.9 L932.7,638.3 L933,636.8 L933.3,635.3 L933.5,633.8 L933.8,632.3 L934,630.9 L934.2,629.5 L934.5,628.1 L934.7,626.7 L934.9,625.3 L935.2,623.9 L935.4,622.5 L935.7,621.1 L936,619.7 L936.2,618.3 L936.5,616.9 L936.8,615.5 L937.1,614.1 L937.4,612.6 L937.7,611.2 L938,609.8 L938.3,608.4 L938.7,606.9 L939,605.5 L939.3,604.1 L939.7,602.6 L940,601.2 L940.3,599.8 L940.7,598.3 L941,596.9 L941.4,595.4 L941.8,594 L942.1,592.5 L942.5,591.1 L942.9,589.6 L943.3,588.2 L943.6,586.7 L944,585.3 L944.4,583.8 L944.8,582.4 L945.2,580.9 L945.6,579.4 L946,578 L946.4,576.5 L946.8,575.1 L947.2,573.6 L947.6,572.1 L948,570.7 L948.4,569.2 L948.8,567.8 L949.2,566.3 L949.6,564.8 L950,563.4 L950.4,561.9 L950.8,560.4 L951.2,559 L951.6,557.5 L952,556.1 L952.4,554.6 L952.8,553.1 L953.2,551.7 L953.6,550.2 L954.1,548.7 L954.5,547.3 L954.9,545.8 L955.3,544.4 L955.7,542.9 L956.1,541.5 L956.5,540 L956.9,538.6 L957.4,537.1 L957.8,535.6 L958.2,534.2 L958.6,532.8 L959.1,531.3 L959.5,529.9 L959.9,528.4 L960.4,527 L960.8,525.5 L961.2,524.1 L961.7,522.7 L962.1,521.2 L962.6,519.8 L963.1,518.4 L963.5,516.9 L964,515.5 L964.5,514.1 L965,512.7 L965.4,511.3 L965.9,509.9 L966.4,508.4 L966.9,507 L967.4,505.6 L968,504.2 L968.5,502.8 L969,501.4 L969.5,500 L970.1,498.7 L970.6,497.3 L971.2,495.9 L971.7,494.5 L972.3,493.1 L972.9,491.8 L973.5,490.4 L974.1,489 L974.7,487.7 L975.3,486.3 L975.9,484.9 L976.5,483.6 L977.1,482.3 L977.8,480.9 L978.4,479.6 L979.1,478.2 L979.8,476.9 L980.4,475.6 L981.1,474.3 L981.8,473 L982.5,471.7 L983.3,470.3 L984,469 L984.7,467.8 L985.5,466.5 L986.2,465.2 L987,463.9 L987.8,462.6 L988.6,461.4 L989.4,460.1 L990.2,458.8 L991,457.6 L991.9,456.3 L992.7,455.1 L993.6,453.9 L994.5,452.6 L995.4,451.4 L996.3,450.2 L997.2,449 L998.1,447.8 L999.1,446.6 L1000,445.4 L1001,444.2 L1002,443" stroke="#22e222"/>
<path d="M645.4,436.3 L646.9,436.7 L648.3,437.1 L649.8,437.6 L651.2,438 L652.7,438.5 L654.1,438.9 L655.6,439.4 L657,439.9 L658.4,440.4 L659.9,440.9 L661.3,441.4 L662.7,442 L664.1,442.5 L665.5,443.1 L666.9,443.6 L668.3,444.2 L669.7,444.8 L671.1,445.4 L672.5,446 L673.9,446.6 L675.3,447.2 L676.6,447.8 L678,448.5 L679.4,449.1 L680.7,449.8 L682.1,450.5 L683.4,451.2 L684.7,451.8 L686.1,452.6 L687.4,453.3 L688.7,454 L690,454.7 L691.3,455.5 L692.6,456.2 L693.9,457 L695.2,457.7 L696.5,458.5 L697.8,459.3 L699,460.1 L700.3,460.9 L701.5,461.7 L702.8,462.6 L704,463.4 L705.3,464.2 L706.5,465.1 L707.7,466 L708.9,466.8 L710.1,467.7 L711.3,468.6 L712.5,469.5 L713.7,470.4 L714.9,471.3 L716.1,472.3 L717.2,473.2 L718.4,474.1 L719.5,475.1 L720.7,476 L721.8,477 L722.9,478 L724,479 L725.2,480 L726.3,481 L727.3,482 L728.4,483 L729.5,484 L730.6,485.1 L731.6,486.1 L732.7,487.2 L733.7,488.2 L734.8,489.3 L735.8,490.4 L736.8,491.5 L737.8,492.6 L738.8,493.7 L739.8,494.8 L740.8,495.9 L741.8,497 L742.7,498.2 L743.7,499.3 L744.6,500.5 L745.6,501.6 L746.5,502.8 L747.4,504 L748.3,505.1 L749.2,506.3 L750.1,507.5 L751,508.7 L751.9,509.9 L752.7,511.2 L753.6,512.4 L754.4,513.6 L755.2,514.9 L756.1,516.1 L756.9,517.4 L757.7,518.6 L758.5,519.9 L759.2,521.2 L760,522.5 L760.8,523.8 L761.5,525.1 L762.2,526.4 L763,527.7 L763.7,529 L764.4,530.3 L765.1,531.7 L765.8,533 L766.4,534.3 L767.1,535.7 L767.8,537.1 L768.4,538.4 L769,539.8 L769.6,541.2 L770.2,542.6 L770.8,544 L771.4,545.4 L772,546.8 L772.6,548.2 L773.1,549.6 L773.7,551 L774.2,552.4 L774.7,553.8 L775.2,555.3 L775.8,556.7 L776.3,558.1 L776.7,559.6 L777.2,561 L777.7,562.5 L778.2,563.9 L778.6,565.4 L779.1,566.8 L779.5,568.3 L780,569.7 L780.4,571.2 L780.8,572.7 L781.3,574.1 L781.7,575.6 L782.1,577 L782.5,578.5 L782.9,580 L783.3,581.4 L783.7,582.9 L784,584.3 L784.4,585.8 L784.8,587.3 L785.2,588.7 L785.5,590.2 L785.9,591.6 L786.2,593.1 L786.6,594.5 L786.9,596 L787.3,597.4 L787.6,598.8 L788,600.3 L788.3,601.7 L788.7,603.1 L789,604.6 L789.3,606 L789.7,607.4 L790,608.8 L790.3,610.2 L790.6,611.6 L791,613 L791.3,614.4 L791.6,615.8 L791.9,617.2 L792.3,618.7 L792.6,620.1 L792.9,621.5 L793.2,622.9 L793.6,624.3 L793.9,625.8 L794.2,627.2 L794.5,628.6 L794.9,630.1 L795.2,631.6 L795.5,633 L795.9,634.5 L796.2,636 L796.5,637.6 L796.9,639.1 L797.2,640.6 L797.5,642.2 L797.9,643.8 L798.2,645.4 L798.6,647 L798.9,648.6 L799.3,650.3 L799.6,652 L800,653.7 L800.4,655.4 L800.7,657.1 L801.1,658.8 L801.5,660.4 L801.9,661.6 L802.2,662.4 L802.6,662.7 L803.1,662.4 L803.5,661.6 L803.9,660.3 L804.3,658.7 L804.7,656.9 L805.1,655 L805.5,653 L805.8,651 L806.1,649.2 L806.4,647.4 L806.7,645.7 L807,644 L807.2,642.4 L807.4,640.9 L807.6,639.4 L807.8,637.9 L808,636.4 L808.2,635 L808.3,633.6 L808.5,632.3 L808.6,630.9 L808.8,629.5 L809,628.2 L809.1,626.8 L809.3,625.4 L809.4,624 L809.6,622.6 L809.7,621.2 L809.9,619.8 L810,618.3 L810.2,616.9 L810.3,615.5 L810.5,614 L810.6,612.5 L810.8,611.1 L811,609.6 L811.1,608.1 L811.3,606.6 L811.4,605.1 L811.6,603.6 L811.7,602.1 L811.9,600.6 L812.1,599.1 L812.2,597.6 L812.4,596.1 L812.5,594.5 L812.7,593 L812.8,591.5 L813,590 L813.1,588.5 L813.3,586.9 L813.4,585.4 L813.6,583.9 L813.7,582.4 L813.8,580.9 L814,579.4 L814.1,577.9 L814.2,576.3 L814.4,574.8 L814.5,573.3 L814.7,571.8 L814.8,570.3 L814.9,568.8 L815,567.3 L815.2,565.8 L815.3,564.3 L815.4,562.8 L815.6,561.3 L815.7,559.8 L815.8,558.3 L815.9,556.8 L816.1,555.3 L816.2,553.8 L816.3,552.3 L816.4,550.8 L816.6,549.3 L816.7,547.8 L816.8,546.3 L816.9,544.8 L817.1,543.3 L817.2,541.8 L817.3,540.3 L817.4,538.8 L817.6,537.4 L817.7,535.9 L817.8,534.4 L817.9,532.9 L818.1,531.4 L818.2,529.9 L818.3,528.4 L818.4,526.9 L818.6,525.5 L818.7,524 L818.8,522.5 L819,521 L819.1,519.5 L819.2,518 L819.4,516.5 L819.5,515.1 L819.7,513.6 L819.8,512.1 L819.9,510.6 L820.1,509.1 L820.2,507.7 L820.4,506.2 L820.5,504.7 L820.7,503.2 L820.8,501.7 L821,500.2 L821.1,498.8 L821.3,497.3 L821.4,495.8 L821.6,494.3 L821.8,492.8 L821.9,491.3 L822.1,489.8 L822.3,488.3 L822.4,486.9 L822.6,485.4 L822.8,483.9 L823,482.4 L823.2,480.9 L823.3,479.4 L823.5,477.9 L823.7,476.4 L823.9,474.9 L824.1,473.4 L824.3,471.9 L824.5,470.4 L824.7,468.9 L824.9,467.4 L825.2,465.8 L825.4,464.3 L825.6,462.8 L825.8,461.3 L826,459.8 L826.3,458.3 L826.5,456.7 L826.7,455.2 L827,453.7 L827.2,452.1 L827.5,450.6 L827.7,449.1 L828,447.5 L828.3,446 L828.7,444.5 L829.2,443.1 L829.7,441.6 L830.4,440.3 L831.2,439.1 L832.1,438.4 L833.1,438.4 L834.1,439.1 L835.1,440.2 L836,441.6 L836.8,443.1 L837.5,444.7 L838.1,446.2 L838.6,447.7 L839.1,449.3 L839.5,450.8 L839.8,452.4 L840.2,453.9 L840.5,455.4 L840.9,456.9 L841.3,458.3 L841.6,459.8 L842,461.2 L842.4,462.6 L842.8,464.1 L843.2,465.5 L843.6,466.9 L844,468.3 L844.4,469.8 L844.8,471.2 L845.2,472.6 L845.5,474.1 L845.9,475.5 L846.3,476.9 L846.6,478.4 L847,479.8 L847.3,481.3 L847.7,482.8 L848,484.2 L848.4,485.7 L848.7,487.2 L849,488.6 L849.4,490.1 L849.7,491.6 L850,493 L850.3,494.5 L850.6,496 L850.9,497.5 L851.3,499 L851.6,500.4 L851.9,501.9 L852.2,503.4 L852.5,504.9 L852.8,506.4 L853.1,507.8 L853.4,509.3 L853.7,510.8 L854,512.3 L854.3,513.7 L854.6,515.2 L854.9,516.7 L855.2,518.1 L855.5,519.6 L855.8,521.1 L856,522.6 L856.3,524 L856.6,525.5 L856.9,527 L857.2,528.4 L857.5,529.9 L857.8,531.4 L858.1,532.8 L858.3,534.3 L858.6,535.8 L858.9,537.2 L859.2,538.7 L859.5,540.2 L859.8,541.6 L860.1,543.1 L860.3,544.6 L860.6,546 L860.9,547.5 L861.2,549 L861.5,550.4 L861.7,551.9 L862,553.4 L862.3,554.9 L862.6,556.3 L862.9,557.8 L863.2,559.3 L863.4,560.7 L863.7,562.2 L864,563.7 L864.3,565.1 L864.6,566.6 L864.9,568.1 L865.1,569.6 L865.4,571 L865.7,572.5 L866,574 L866.3,575.5 L866.6,577 L866.9,578.4 L867.1,579.9 L867.4,581.4 L867.7,582.9 L868,584.4 L868.3,585.8 L868.6,587.3 L868.9,588.8 L869.2,590.3 L869.5,591.8 L869.8,593.3 L870.1,594.8 L870.4,596.3 L870.6,597.7 L870.9,599.2 L871.2,600.7 L871.5,602.2 L871.8,603.7 L872.1,605.2 L872.4,606.6 L872.7,608.1 L873,609.6 L873.3,611.1 L873.6,612.6 L873.9,614 L874.2,615.5 L874.4,617 L874.7,618.4 L875,619.9 L875.3,621.3 L875.6,622.8 L875.9,624.2 L876.1,625.7 L876.4,627.1 L876.7,628.5 L877,630 L877.3,631.4 L877.5,632.8 L877.8,634.2 L878.1,635.6 L878.3,637 L878.6,638.5 L878.9,639.9 L879.2,641.3 L879.5,642.8 L879.8,644.3 L880.1,645.8 L880.5,647.3 L880.9,648.9 L881.3,650.5 L881.7,652.2 L882.2,653.9 L882.7,655.7 L883.3,657.3 L883.9,658.7 L884.5,659.5 L885.2,659.7 L886,659.2 L886.8,658.1 L887.6,656.7 L888.4,655 L889.1,653.2 L889.7,651.4 L890.3,649.6 L890.8,648 L891.2,646.4 L891.6,644.9 L891.9,643.4 L892.2,642 L892.5,640.5 L892.7,639.2 L892.9,637.8 L893.2,636.4 L893.5,635 L893.8,633.7 L894.1,632.3 L894.4,630.9 L894.8,629.5 L895.1,628 L895.5,626.6 L895.9,625.2 L896.3,623.8 L896.7,622.3 L897.1,620.9 L897.5,619.4 L897.9,618 L898.3,616.5 L898.7,615.1 L899.1,613.6 L899.6,612.1 L900,610.7 L900.4,609.2 L900.8,607.8 L901.2,606.3 L901.6,604.8 L902,603.4 L902.4,601.9 L902.8,600.5 L903.2,599 L903.6,597.5 L904,596.1 L904.3,594.6 L904.7,593.2 L905.1,591.7 L905.5,590.2 L905.9,588.8 L906.3,587.3 L906.7,585.9 L907,584.4 L907.4,582.9 L907.8,581.5 L908.2,580 L908.6,578.6 L909,577.1 L909.3,575.6 L909.7,574.2 L910.1,572.7 L910.5,571.3 L910.9,569.8 L911.3,568.4 L911.7,566.9 L912,565.5 L912.4,564 L912.8,562.6 L913.2,561.1 L913.6,559.7 L914,558.2 L914.4,556.8 L914.8,555.3 L915.2,553.9 L915.6,552.4 L916,551 L916.4,549.6 L916.8,548.1 L917.2,546.7 L917.6,545.2 L918,543.8 L918.5,542.4 L918.9,540.9 L919.3,539.5 L919.7,538.1 L920.2,536.7 L920.6,535.2 L921,533.8 L921.5,532.4 L921.9,531 L922.4,529.6 L922.8,528.1 L923.3,526.7 L923.7,525.3 L924.2,523.9 L924.7,522.5 L925.1,521.1 L925.6,519.7 L926.1,518.3 L926.6,516.9 L927.1,515.5 L927.6,514 L928.1,512.6 L928.6,511.2 L929.1,509.8 L929.7,508.4 L930.2,507 L930.7,505.6 L931.3,504.2 L931.8,502.8 L932.4,501.4 L932.9,500 L933.5,498.6 L934.1,497.3 L934.7,495.9 L935.3,494.5 L935.9,493.1 L936.5,491.7 L937.1,490.3 L937.7,488.9 L938.4,487.5 L939,486.1 L939.6,484.8 L940.3,483.4 L941,482 L941.6,480.7 L942.3,479.3 L943,478 L943.7,476.6 L944.4,475.3 L945.2,473.9 L945.9,472.6 L946.6,471.3 L947.4,469.9 L948.1,468.6 L948.9,467.3 L949.7,466 L950.5,464.7 L951.3,463.5 L952.1,462.2 L952.9,460.9 L953.8,459.7 L954.6,458.4 L955.5,457.2 L956.3,456 L957.2,454.8 L958.1,453.6 L959,452.4 L959.9,451.2 L960.8,450 L961.8,448.9 L962.7,447.7 L963.7,446.6 L964.7,445.5 L965.7,444.4 L966.7,443.3 L967.7,442.2 L968.7,441.1 L969.8,440.1 L970.8,439 L971.9,438 L973,437 L974.1,436 L975.2,435 L976.3,434.1 L977.4,433.1 L978.6,432.2 L979.8,431.3 L980.9,430.4 L982.1,429.5 L983.4,428.7 L984.6,427.9 L985.8,427 L987.1,426.2 L988.4,425.5 L989.7,424.7 L991,424 L992.3,423.2 L993.6,422.5 L995,421.9 L996.4,421.2 L997.7,420.6 L999.1,420 L1000.6,419.4 L1002,418.8" stroke="#0c0cc0"/>
<path d="M645.4,453 L646.7,453.7 L648.1,454.3 L649.4,455 L650.7,455.7 L652,456.4 L653.4,457.1 L654.7,457.8 L656,458.5 L657.3,459.2 L658.7,459.9 L660,460.6 L661.3,461.4 L662.6,462.1 L663.9,462.8 L665.2,463.6 L666.5,464.4 L667.8,465.1 L669.1,465.9 L670.4,466.7 L671.7,467.5 L673,468.3 L674.3,469.1 L675.5,469.9 L676.8,470.7 L678,471.6 L679.3,472.4 L680.5,473.3 L681.7,474.2 L683,475 L684.2,475.9 L685.4,476.8 L686.6,477.7 L687.8,478.6 L688.9,479.6 L690.1,480.5 L691.2,481.5 L692.4,482.4 L693.5,483.4 L694.6,484.4 L695.7,485.4 L696.8,486.4 L697.9,487.4 L699,488.5 L700,489.5 L701.1,490.6 L702.1,491.7 L703.1,492.8 L704.1,493.9 L705.1,495 L706.1,496.1 L707.1,497.3 L708,498.4 L708.9,499.6 L709.9,500.8 L710.8,501.9 L711.7,503.1 L712.6,504.3 L713.4,505.5 L714.3,506.8 L715.2,508 L716,509.2 L716.8,510.5 L717.7,511.8 L718.5,513 L719.3,514.3 L720.1,515.6 L720.8,516.9 L721.6,518.2 L722.4,519.5 L723.1,520.8 L723.9,522.1 L724.6,523.4 L725.3,524.7 L726.1,526.1 L726.8,527.4 L727.5,528.7 L728.2,530.1 L728.9,531.4 L729.5,532.8 L730.2,534.1 L730.9,535.5 L731.5,536.9 L732.2,538.2 L732.8,539.6 L733.5,541 L734.1,542.3 L734.7,543.7 L735.3,545.1 L736,546.5 L736.6,547.8 L737.2,549.2 L737.8,550.6 L738.4,552 L738.9,553.3 L739.5,554.7 L740.1,556.1 L740.7,557.5 L741.2,558.8 L741.8,560.2 L742.4,561.6 L742.9,563 L743.5,564.4 L744,565.7 L744.5,567.1 L745.1,568.5 L745.6,569.9 L746.1,571.3 L746.6,572.7 L747.1,574.1 L747.6,575.5 L748.1,576.9 L748.5,578.3 L749,579.7 L749.5,581.2 L749.9,582.6 L750.4,584 L750.8,585.5 L751.2,586.9 L751.6,588.4 L752,589.8 L752.4,591.3 L752.8,592.8 L753.2,594.2 L753.6,595.7 L753.9,597.2 L754.3,598.7 L754.7,600.2 L755,601.7 L755.3,603.1 L755.7,604.6 L756,606.1 L756.3,607.6 L756.7,609.1 L757,610.6 L757.3,612 L757.6,613.5 L757.9,615 L758.2,616.5 L758.5,617.9 L758.8,619.4 L759.1,620.8 L759.4,622.3 L759.7,623.7 L760,625.1 L760.3,626.6 L760.6,628 L760.9,629.4 L761.2,630.8 L761.5,632.2 L761.7,633.5 L762,634.9 L762.3,636.3 L762.6,637.7 L762.9,639.1 L763.2,640.6 L763.5,642.1 L763.8,643.6 L764.1,645.2 L764.4,646.9 L764.8,648.6 L765.1,650.5 L765.4,652.4 L765.7,654.2 L766.1,656 L766.4,657.5 L766.8,658.6 L767.2,659.3 L767.7,659.4 L768.1,658.9 L768.6,658 L769.1,656.7 L769.6,655 L770.1,653.2 L770.6,651.2 L771.1,649.2 L771.5,647.3 L771.8,645.4 L772.2,643.6 L772.5,641.9 L772.7,640.3 L773,638.7 L773.2,637.2 L773.3,635.7 L773.5,634.2 L773.7,632.8 L773.8,631.4 L773.9,630.1 L774,628.7 L774.1,627.4 L774.2,626 L774.4,624.7 L774.5,623.3 L774.6,621.9 L774.7,620.5 L774.9,619.1 L775,617.6 L775.1,616.2 L775.3,614.7 L775.4,613.3 L775.6,611.8 L775.7,610.3 L775.9,608.8 L776,607.3 L776.2,605.8 L776.3,604.3 L776.5,602.8 L776.7,601.2 L776.8,599.7 L777,598.2 L777.1,596.6 L777.3,595.1 L777.4,593.6 L777.6,592 L777.7,590.5 L777.9,589 L778,587.4 L778.2,585.9 L778.3,584.4 L778.5,582.9 L778.6,581.4 L778.7,579.9 L778.8,578.4 L779,576.9 L779.1,575.4 L779.2,573.9 L779.3,572.4 L779.5,570.9 L779.6,569.4 L779.7,567.9 L779.8,566.5 L779.9,565 L780,563.5 L780.1,562 L780.2,560.6 L780.4,559.1 L780.5,557.6 L780.6,556.1 L780.7,554.6 L780.8,553.2 L780.9,551.7 L781,550.2 L781.1,548.7 L781.2,547.3 L781.4,545.8 L781.5,544.3 L781.6,542.8 L781.7,541.3 L781.8,539.8 L782,538.3 L782.1,536.8 L782.2,535.3 L782.3,533.8 L782.5,532.3 L782.6,530.8 L782.8,529.3 L782.9,527.8 L783,526.3 L783.2,524.7 L783.3,523.2 L783.5,521.7 L783.6,520.2 L783.7,518.7 L783.9,517.2 L784,515.7 L784.2,514.1 L784.3,512.6 L784.5,511.1 L784.6,509.6 L784.7,508.1 L784.9,506.6 L785,505.1 L785.2,503.7 L785.3,502.2 L785.4,500.7 L785.6,499.2 L785.7,497.8 L785.8,496.3 L786,494.8 L786.1,493.4 L786.2,491.9 L786.3,490.5 L786.4,489.1 L786.6,487.6 L786.7,486.2 L786.8,484.8 L786.9,483.3 L787,481.9 L787.1,480.4 L787.2,479 L787.3,477.5 L787.4,476 L787.6,474.5 L787.7,473 L787.8,471.4 L787.9,469.9 L788,468.3 L788.1,466.7 L788.2,465 L788.4,463.4 L788.5,461.7 L788.7,460 L788.9,458.3 L789.1,456.6 L789.4,455 L789.7,453.3 L790.1,451.7 L790.6,450.2 L791.2,448.6 L791.8,447.3 L792.5,446.2 L793.2,445.7 L793.9,445.8 L794.6,446.5 L795.3,447.6 L795.9,449.1 L796.6,450.6 L797.1,452.2 L797.7,453.7 L798.2,455.3 L798.7,456.8 L799.1,458.3 L799.5,459.8 L799.9,461.3 L800.3,462.8 L800.6,464.3 L801,465.8 L801.3,467.3 L801.6,468.8 L801.9,470.3 L802.2,471.8 L802.5,473.3 L802.8,474.7 L803,476.2 L803.3,477.7 L803.6,479.2 L803.9,480.6 L804.2,482.1 L804.5,483.6 L804.8,485.1 L805.1,486.6 L805.4,488 L805.7,489.5 L806,491 L806.3,492.5 L806.6,494 L806.9,495.4 L807.2,496.9 L807.5,498.4 L807.8,499.9 L808.1,501.3 L808.4,502.8 L808.7,504.3 L809,505.8 L809.3,507.2 L809.6,508.7 L809.8,510.2 L810.1,511.7 L810.4,513.1 L810.7,514.6 L811,516.1 L811.3,517.5 L811.6,519 L811.9,520.5 L812.1,521.9 L812.4,523.4 L812.7,524.8 L813,526.3 L813.2,527.8 L813.5,529.2 L813.8,530.7 L814,532.1 L814.3,533.6 L814.6,535.1 L814.8,536.5 L815.1,538 L815.4,539.4 L815.6,540.9 L815.9,542.3 L816.2,543.8 L816.4,545.3 L816.7,546.7 L817,548.2 L817.3,549.7 L817.5,551.1 L817.8,552.6 L818.1,554.1 L818.4,555.5 L818.7,557 L819,558.5 L819.2,560 L819.5,561.5 L819.9,562.9 L820.2,564.4 L820.5,565.9 L820.8,567.4 L821.1,568.9 L821.4,570.4 L821.8,571.9 L822.1,573.4 L822.4,574.9 L822.8,576.4 L823.1,577.9 L823.5,579.4 L823.8,580.9 L824.1,582.4 L824.5,583.9 L824.8,585.4 L825.2,586.9 L825.5,588.4 L825.9,589.9 L826.2,591.4 L826.5,592.9 L826.9,594.3 L827.2,595.8 L827.5,597.3 L827.9,598.7 L828.2,600.2 L828.5,601.6 L828.8,603.1 L829.1,604.5 L829.4,605.9 L829.7,607.3 L830,608.7 L830.3,610.1 L830.6,611.5 L830.9,612.9 L831.2,614.2 L831.4,615.6 L831.7,617 L832,618.4 L832.3,619.7 L832.5,621.1 L832.8,622.5 L833.1,623.9 L833.4,625.3 L833.7,626.8 L834,628.2 L834.3,629.7 L834.6,631.1 L834.9,632.6 L835.2,634.1 L835.6,635.7 L835.9,637.2 L836.3,638.8 L836.7,640.5 L837.1,642.1 L837.5,643.8 L837.9,645.5 L838.3,647.3 L838.8,649.1 L839.3,650.9 L839.8,652.8 L840.3,654.6 L840.8,656.3 L841.4,657.9 L842,659.3 L842.7,660.4 L843.3,661.1 L844,661.4 L844.7,661.3 L845.5,660.7 L846.3,659.7 L847.1,658.4 L847.8,656.9 L848.5,655.2 L849.2,653.6 L849.8,651.9 L850.3,650.3 L850.8,648.8 L851.3,647.3 L851.6,645.7 L852,644.3 L852.3,642.8 L852.6,641.4 L852.9,639.9 L853.2,638.5 L853.5,637.1 L853.8,635.7 L854.1,634.2 L854.5,632.8 L854.8,631.4 L855.2,629.9 L855.5,628.5 L855.9,627 L856.3,625.6 L856.6,624.1 L857,622.7 L857.4,621.2 L857.8,619.8 L858.2,618.3 L858.6,616.9 L859,615.4 L859.4,613.9 L859.8,612.5 L860.2,611 L860.6,609.6 L861,608.1 L861.4,606.7 L861.8,605.2 L862.1,603.8 L862.5,602.3 L862.9,600.9 L863.3,599.4 L863.7,598 L864,596.5 L864.4,595.1 L864.8,593.6 L865.2,592.2 L865.6,590.7 L865.9,589.3 L866.3,587.8 L866.7,586.4 L867.1,584.9 L867.4,583.5 L867.8,582 L868.2,580.6 L868.6,579.1 L868.9,577.7 L869.3,576.2 L869.7,574.8 L870.1,573.3 L870.5,571.9 L870.8,570.4 L871.2,569 L871.6,567.5 L872,566 L872.4,564.6 L872.7,563.1 L873.1,561.7 L873.5,560.2 L873.9,558.8 L874.3,557.3 L874.7,555.9 L875.1,554.4 L875.5,553 L875.9,551.6 L876.3,550.1 L876.7,548.7 L877.1,547.2 L877.5,545.8 L878,544.3 L878.4,542.9 L878.8,541.5 L879.2,540 L879.7,538.6 L880.1,537.1 L880.5,535.7 L881,534.3 L881.4,532.8 L881.9,531.4 L882.3,530 L882.8,528.5 L883.2,527.1 L883.7,525.7 L884.2,524.3 L884.6,522.8 L885.1,521.4 L885.6,520 L886.1,518.6 L886.6,517.2 L887.1,515.7 L887.6,514.3 L888.1,512.9 L888.6,511.5 L889.1,510.1 L889.7,508.7 L890.2,507.3 L890.7,505.9 L891.3,504.5 L891.8,503.1 L892.4,501.7 L892.9,500.3 L893.5,498.9 L894.1,497.6 L894.7,496.2 L895.2,494.8 L895.8,493.4 L896.4,492 L897,490.7 L897.6,489.3 L898.3,487.9 L898.9,486.6 L899.5,485.2 L900.1,483.8 L900.8,482.5 L901.4,481.1 L902.1,479.8 L902.8,478.4 L903.4,477.1 L904.1,475.7 L904.8,474.4 L905.5,473.1 L906.2,471.7 L906.9,470.4 L907.6,469.1 L908.3,467.8 L909,466.5 L909.7,465.1 L910.5,463.8 L911.2,462.5 L912,461.2 L912.7,459.9 L913.5,458.6 L914.3,457.3 L915.1,456.1 L915.9,454.8 L916.7,453.5 L917.5,452.2 L918.3,451 L919.1,449.7 L920,448.5 L920.9,447.3 L921.8,446.1 L922.7,444.9 L923.6,443.8 L924.6,442.7 L925.6,441.6 L926.6,440.5 L927.7,439.5 L928.8,438.5 L929.9,437.5 L931.1,436.6 L932.3,435.7 L933.6,434.8 L934.8,434 L936.2,433.2 L937.5,432.4 L938.9,431.5 L940.3,430.7 L941.7,430 L943.1,429.4 L944.5,428.9 L945.9,428.8 L947.3,429 L948.7,429.5 L950.1,430.4 L951.5,431.4 L952.8,432.5 L954.1,433.6 L955.3,434.5 L956.5,435.2 L957.7,435.6 L958.7,435.5 L959.7,435 L960.7,434.1 L961.6,432.9 L962.5,431.5 L963.3,430.1 L964.1,428.6 L964.9,427.1 L965.7,425.7 L966.5,424.2 L967.3,422.9 L968.2,421.6 L969.2,420.4 L970.2,419.3 L971.3,418.2 L972.4,417.3 L973.6,416.4 L974.8,415.6 L976.1,414.9 L977.4,414.2 L978.8,413.6 L980.1,413 L981.6,412.5 L983,412 L984.4,411.6 L985.9,411.1 L987.4,410.8 L988.9,410.4 L990.4,410.1 L991.9,409.7 L993.4,409.4 L994.8,409.1 L996.3,408.8 L997.8,408.5 L999.2,408.1 L1000.6,407.8 L1002,407.4" stroke="#22e0e6"/>
<path d="M645.4,480.5 L646.6,481.4 L647.8,482.4 L649,483.3 L650.2,484.3 L651.4,485.3 L652.6,486.3 L653.7,487.2 L654.9,488.2 L656,489.3 L657.1,490.3 L658.2,491.3 L659.3,492.3 L660.4,493.4 L661.5,494.4 L662.6,495.5 L663.6,496.6 L664.7,497.6 L665.7,498.7 L666.8,499.8 L667.8,500.9 L668.8,502 L669.8,503.2 L670.8,504.3 L671.7,505.4 L672.7,506.6 L673.7,507.7 L674.6,508.9 L675.6,510 L676.5,511.2 L677.4,512.4 L678.3,513.6 L679.2,514.8 L680.1,516 L681,517.2 L681.8,518.4 L682.7,519.6 L683.6,520.8 L684.4,522.1 L685.2,523.3 L686.1,524.5 L686.9,525.8 L687.7,527.1 L688.5,528.3 L689.3,529.6 L690,530.9 L690.8,532.2 L691.6,533.4 L692.3,534.7 L693,536 L693.8,537.3 L694.5,538.7 L695.2,540 L695.9,541.3 L696.6,542.6 L697.3,543.9 L698,545.3 L698.7,546.6 L699.3,548 L700,549.3 L700.6,550.7 L701.3,552 L701.9,553.4 L702.5,554.8 L703.1,556.1 L703.8,557.5 L704.3,558.9 L704.9,560.3 L705.5,561.7 L706.1,563.1 L706.7,564.5 L707.2,565.9 L707.8,567.3 L708.3,568.7 L708.9,570.1 L709.4,571.5 L709.9,572.9 L710.4,574.4 L710.9,575.8 L711.4,577.2 L711.9,578.6 L712.4,580.1 L712.9,581.5 L713.4,582.9 L713.8,584.4 L714.3,585.8 L714.7,587.3 L715.2,588.7 L715.6,590.2 L716.1,591.6 L716.5,593.1 L716.9,594.5 L717.3,596 L717.7,597.5 L718.1,598.9 L718.5,600.4 L718.9,601.9 L719.3,603.3 L719.6,604.8 L720,606.3 L720.4,607.7 L720.7,609.2 L721.1,610.7 L721.4,612.1 L721.7,613.6 L722.1,615.1 L722.4,616.6 L722.7,618.1 L723,619.5 L723.3,621 L723.6,622.5 L723.9,624 L724.2,625.4 L724.5,626.9 L724.8,628.4 L725,629.9 L725.3,631.4 L725.6,632.8 L725.8,634.3 L726.1,635.8 L726.3,637.3 L726.6,638.8 L726.8,640.2 L727,641.7 L727.2,643.2 L727.5,644.6 L727.7,646.1 L727.9,647.6 L728.1,649.1 L728.3,650.5 L728.3,650.8 L728.4,651.2 L728.5,651.5 L728.6,651.7 L728.8,651.9 L728.9,652 L729.2,652.1 L729.4,652.1 L729.7,652 L730.6,652 L730.9,652.1 L731.1,652.1 L731.4,652 L731.5,651.9 L731.7,651.7 L731.8,651.5 L731.9,651.2 L732,650.8 L732,650.5 L732.2,649 L732.5,647.5 L732.7,646.1 L732.9,644.6 L733.1,643.1 L733.3,641.6 L733.4,640.1 L733.6,638.6 L733.8,637.1 L734,635.6 L734.2,634.2 L734.3,632.7 L734.5,631.2 L734.7,629.7 L734.8,628.2 L735,626.7 L735.1,625.2 L735.3,623.7 L735.4,622.2 L735.5,620.7 L735.7,619.2 L735.8,617.7 L735.9,616.2 L736.1,614.7 L736.2,613.2 L736.3,611.8 L736.4,610.3 L736.5,608.8 L736.6,607.3 L736.8,605.8 L736.9,604.3 L737,602.8 L737.1,601.3 L737.2,599.8 L737.3,598.3 L737.4,596.8 L737.5,595.3 L737.5,593.8 L737.6,592.3 L737.7,590.8 L737.8,589.3 L737.9,587.8 L738,586.3 L738.1,584.8 L738.1,583.3 L738.2,581.8 L738.3,580.3 L738.4,578.8 L738.5,577.3 L738.5,575.8 L738.6,574.3 L738.7,572.7 L738.8,571.2 L738.8,569.7 L738.9,568.2 L739,566.7 L739.1,565.2 L739.1,563.7 L739.2,562.2 L739.3,560.7 L739.4,559.2 L739.4,557.7 L739.5,556.2 L739.6,554.7 L739.6,553.2 L739.7,551.7 L739.8,550.2 L739.9,548.7 L740,547.2 L740,545.7 L740.1,544.2 L740.2,542.7 L740.3,541.2 L740.4,539.7 L740.4,538.2 L740.5,536.7 L740.6,535.2 L740.7,533.7 L740.8,532.2 L740.9,530.7 L741,529.2 L741.1,527.7 L741.2,526.2 L741.3,524.7 L741.4,523.2 L741.5,521.7 L741.6,520.2 L741.7,518.7 L741.8,517.2 L742,515.8 L742.1,514.3 L742.2,512.8 L742.3,511.3 L742.5,509.8 L742.6,508.3 L742.7,506.8 L742.9,505.3 L743,503.8 L743.2,502.3 L743.3,500.8 L743.5,499.4 L743.7,497.9 L743.9,496.4 L744,494.9 L744.2,493.4 L744.4,491.9 L744.6,490.5 L744.8,489 L745,487.5 L745.2,486 L745.4,484.6 L745.7,483.1 L745.9,481.6 L746.1,480.1 L746.4,478.7 L746.6,477.2 L746.9,475.7 L747.2,474.3 L747.4,472.8 L747.7,471.3 L747.9,470.4 L748,469.7 L748.1,469.2 L748.2,468.9 L748.3,468.8 L748.5,468.9 L748.6,469.2 L748.7,469.6 L748.8,470.3 L749.1,471.3 L749.5,472.7 L749.9,474.1 L750.3,475.6 L750.7,477 L751.1,478.5 L751.4,479.9 L751.8,481.4 L752.2,482.8 L752.5,484.2 L752.9,485.7 L753.3,487.2 L753.6,488.6 L754,490.1 L754.3,491.5 L754.6,493 L755,494.4 L755.3,495.9 L755.6,497.4 L756,498.8 L756.3,500.3 L756.6,501.7 L756.9,503.2 L757.3,504.7 L757.6,506.1 L757.9,507.6 L758.2,509.1 L758.5,510.6 L758.8,512 L759.1,513.5 L759.4,515 L759.7,516.5 L760,517.9 L760.3,519.4 L760.6,520.9 L760.9,522.4 L761.2,523.8 L761.5,525.3 L761.8,526.8 L762.1,528.3 L762.3,529.7 L762.6,531.2 L762.9,532.7 L763.2,534.2 L763.5,535.7 L763.8,537.1 L764,538.6 L764.3,540.1 L764.6,541.6 L764.9,543.1 L765.2,544.5 L765.4,546 L765.7,547.5 L766,549 L766.3,550.4 L766.6,551.9 L766.8,553.4 L767.1,554.9 L767.4,556.4 L767.7,557.8 L768,559.3 L768.3,560.8 L768.5,562.3 L768.8,563.7 L769.1,565.2 L769.4,566.7 L769.7,568.2 L770,569.6 L770.3,571.1 L770.6,572.6 L770.9,574 L771.2,575.5 L771.5,577 L771.8,578.4 L772.1,579.9 L772.4,581.4 L772.7,582.8 L773,584.3 L773.3,585.7 L773.6,587.2 L773.9,588.7 L774.3,590.1 L774.6,591.6 L774.9,593 L775.2,594.5 L775.6,595.9 L775.9,597.4 L776.2,598.8 L776.6,600.3 L776.9,601.7 L777.3,603.1 L777.6,604.6 L778,606 L778.3,607.5 L778.7,608.9 L779.1,610.3 L779.4,611.8 L779.8,613.2 L780.2,614.6 L780.6,616.1 L780.9,617.5 L781.3,618.9 L781.7,620.4 L782.1,621.8 L782.5,623.3 L782.8,624.7 L783.2,626.2 L783.6,627.7 L783.9,629.2 L784.3,630.6 L784.7,632.1 L785,633.7 L785.4,635.2 L785.7,636.7 L786.1,638.3 L786.4,639.8 L786.8,641.4 L787.1,643 L787.5,644.5 L787.9,646.1 L788.3,647.6 L788.8,649.2 L789.3,650.7 L789.9,652.2 L790.5,653.7 L791.1,655.1 L791.9,656.6 L792.6,657.9 L793.5,659.2 L794.4,660.3 L795.3,661.1 L796.2,661.4 L797,661.1 L797.9,660.3 L798.7,659.2 L799.4,657.8 L800.1,656.3 L800.7,654.7 L801.3,653.2 L801.8,651.6 L802.3,650 L802.8,648.5 L803.2,646.9 L803.6,645.4 L803.9,643.8 L804.3,642.3 L804.6,640.7 L804.9,639.2 L805.2,637.7 L805.5,636.2 L805.9,634.7 L806.2,633.2 L806.5,631.7 L806.8,630.2 L807.2,628.8 L807.5,627.3 L807.8,625.8 L808.2,624.4 L808.6,622.9 L808.9,621.5 L809.3,620.1 L809.7,618.6 L810.1,617.2 L810.4,615.8 L810.8,614.3 L811.2,612.9 L811.6,611.5 L812.1,610.1 L812.5,608.6 L812.9,607.2 L813.3,605.8 L813.8,604.4 L814.2,602.9 L814.6,601.5 L815.1,600.1 L815.5,598.7 L816,597.2 L816.4,595.8 L816.9,594.4 L817.3,593 L817.8,591.5 L818.2,590.1 L818.7,588.7 L819.1,587.2 L819.6,585.8 L820,584.4 L820.4,582.9 L820.9,581.5 L821.3,580.1 L821.8,578.6 L822.2,577.2 L822.6,575.8 L823.1,574.3 L823.5,572.9 L823.9,571.4 L824.3,570 L824.8,568.6 L825.2,567.1 L825.6,565.7 L826,564.2 L826.5,562.8 L826.9,561.3 L827.3,559.9 L827.7,558.5 L828.2,557 L828.6,555.6 L829,554.1 L829.5,552.7 L829.9,551.2 L830.3,549.8 L830.7,548.3 L831.2,546.9 L831.6,545.5 L832,544 L832.5,542.6 L832.9,541.1 L833.4,539.7 L833.8,538.3 L834.2,536.8 L834.7,535.4 L835.1,534 L835.6,532.5 L836,531.1 L836.5,529.7 L837,528.2 L837.4,526.8 L837.9,525.4 L838.4,523.9 L838.8,522.5 L839.3,521.1 L839.8,519.7 L840.3,518.2 L840.8,516.8 L841.3,515.4 L841.8,514 L842.3,512.6 L842.8,511.2 L843.3,509.8 L843.8,508.4 L844.3,507 L844.9,505.6 L845.4,504.2 L845.9,502.8 L846.5,501.4 L847,500 L847.6,498.6 L848.2,497.2 L848.7,495.8 L849.3,494.4 L849.9,493.1 L850.5,491.7 L851.1,490.3 L851.7,489 L852.3,487.6 L852.9,486.2 L853.5,484.9 L854.1,483.5 L854.8,482.2 L855.4,480.8 L856.1,479.5 L856.8,478.1 L857.4,476.8 L858.1,475.5 L858.8,474.1 L859.5,472.8 L860.2,471.5 L860.9,470.2 L861.6,468.9 L862.4,467.6 L863.1,466.3 L863.9,465 L864.6,463.7 L865.4,462.4 L866.2,461.1 L867,459.8 L867.8,458.5 L868.6,457.3 L869.4,456 L870.2,454.7 L871.1,453.5 L871.9,452.2 L872.8,451 L873.6,449.7 L874.5,448.5 L875.4,447.3 L876.3,446.1 L877.3,444.9 L878.3,443.7 L879.3,442.6 L880.3,441.5 L881.4,440.5 L882.6,439.6 L883.8,438.7 L885.2,437.9 L886.5,437.2 L888,436.6 L889.5,436.2 L891,435.9 L892.4,436 L893.8,436.3 L895,437 L896.2,437.9 L897.2,439 L898.2,440.2 L899.1,441.5 L899.9,442.9 L900.6,444.3 L901.2,445.7 L901.8,447.1 L902.4,448.6 L902.9,450.1 L903.3,451.5 L903.7,453 L904.1,454.5 L904.5,456 L904.9,457.5 L905.2,459 L905.6,460.5 L906,462 L906.4,463.4 L906.8,464.9 L907.3,466.2 L907.8,467.6 L908.3,468.9 L908.9,470.2 L909.5,471.5 L910,472.8 L910.6,474.2 L911,475.6 L911.3,477.1 L911.4,478 L911.5,478.9 L911.5,479.5 L911.6,479.9 L911.7,480 L911.9,479.9 L912.1,479.6 L912.3,479 L912.5,478.2 L912.6,477.9 L913.1,476.6 L913.6,475.3 L914,473.9 L914.5,472.5 L914.9,471.1 L915.2,469.6 L915.6,468.2 L915.9,466.7 L916.3,465.3 L916.6,463.8 L916.9,462.3 L917.2,460.8 L917.5,459.2 L917.8,457.7 L918,456.2 L918.3,454.7 L918.6,453.1 L919,451.6 L919.3,450.1 L919.6,448.5 L920,447 L920.3,445.5 L920.7,444 L921.1,442.5 L921.6,441 L922,439.6 L922.5,438.1 L923.1,436.7 L923.6,435.2 L924.2,433.8 L924.8,432.5 L925.5,431.1 L926.1,429.8 L926.8,428.5 L927.6,427.2 L928.4,426 L929.2,424.7 L930,423.6 L930.9,422.4 L931.8,421.3 L932.8,420.2 L933.8,419.2 L934.8,418.2 L935.9,417.3 L936.9,416.4 L938.1,415.5 L939.2,414.7 L940.4,413.9 L941.7,413.1 L942.9,412.4 L944.2,411.7 L945.5,411.1 L946.8,410.5 L948.2,409.9 L949.6,409.3 L951,408.8 L952.4,408.3 L953.8,407.9 L955.3,407.4 L956.8,407 L958.2,406.7 L959.7,406.3 L961.3,406 L962.8,405.7 L964.3,405.4 L965.9,405.2 L967.4,404.9 L969,404.7 L970.5,404.5 L972.1,404.3 L973.6,404.2 L975.2,404 L976.8,403.9 L978.3,403.8 L979.9,403.7 L981.4,403.6 L983,403.6 L984.5,403.5 L986.1,403.5 L987.6,403.4 L989.1,403.4 L990.6,403.4 L992.1,403.4 L993.5,403.4 L995,403.4 L996.4,403.4 L997.9,403.4 L999.3,403.4 L1000.6,403.4 L1002,403.4" stroke="#e01ed2"/>
</g>
<text x="638" y="688.3" font-size="18.8" font-weight="bold" font-style="normal" text-anchor="end" >0.0</text>
<text x="638" y="630.5" font-size="18.8" font-weight="bold" font-style="normal" text-anchor="end" >0.2</text>
<text x="638" y="572.7" font-size="18.8" font-weight="bold" font-style="normal" text-anchor="end" >0.4</text>
<text x="638" y="515" font-size="18.8" font-weight="bold" font-style="normal" text-anchor="end" >0.6</text>
<text x="638" y="457.2" font-size="18.8" font-weight="bold" font-style="normal" text-anchor="end" >0.8</text>
<text x="638" y="399.4" font-size="18.8" font-weight="bold" font-style="normal" text-anchor="end" >1.0</text>
<text x="644.5" y="703" font-size="18.9" font-weight="bold" font-style="normal" text-anchor="middle" >1.40</text>
<text x="734.2" y="703" font-size="18.9" font-weight="bold" font-style="normal" text-anchor="middle" >1.45</text>
<text x="824" y="703" font-size="18.9" font-weight="bold" font-style="normal" text-anchor="middle" >1.50</text>
<text x="913.8" y="703" font-size="18.9" font-weight="bold" font-style="normal" text-anchor="middle" >1.55</text>
<text x="1003.5" y="703" font-size="18.9" font-weight="bold" font-style="normal" text-anchor="middle" >1.60</text>
<text x="823.8" y="735.7" font-size="19" font-weight="bold" font-style="normal" text-anchor="middle" >Frequency/THz</text>
<text x="594.9" y="532.5" font-size="18.8" font-weight="bold" font-style="normal" text-anchor="middle" transform="rotate(-90 594.9 532.5)" >Transmission</text>
<line x1="651" y1="543.5" x2="681.7" y2="543.5" stroke="#000000" stroke-width="2.2" />
<text x="687" y="548.7" font-size="18.6" font-weight="bold" font-style="normal" text-anchor="start" >n= 1</text>
<line x1="651" y1="567" x2="681.7" y2="567" stroke="#d8161c" stroke-width="2.2" />
<text x="687" y="572.2" font-size="18.6" font-weight="bold" font-style="normal" text-anchor="start" >n=1.1</text>
<line x1="651" y1="590.8" x2="681.7" y2="590.8" stroke="#22e222" stroke-width="2.2" />
<text x="687" y="596" font-size="18.6" font-weight="bold" font-style="normal" text-anchor="start" >n=1.2</text>
<line x1="651" y1="614.8" x2="681.7" y2="614.8" stroke="#0c0cc0" stroke-width="2.2" />
<text x="687" y="620" font-size="18.6" font-weight="bold" font-style="normal" text-anchor="start" >n=1.3</text>
<line x1="651" y1="638.5" x2="681.7" y2="638.5" stroke="#22e0e6" stroke-width="2.2" />
<text x="687" y="643.7" font-size="18.6" font-weight="bold" font-style="normal" text-anchor="start" >n=1.4</text>
<line x1="651" y1="662.2" x2="681.7" y2="662.2" stroke="#e01ed2" stroke-width="2.2" />
<text x="687" y="667.4" font-size="18.6" font-weight="bold" font-style="normal" text-anchor="start" >n=1.5</text>
</g>
</svg></body></html>
